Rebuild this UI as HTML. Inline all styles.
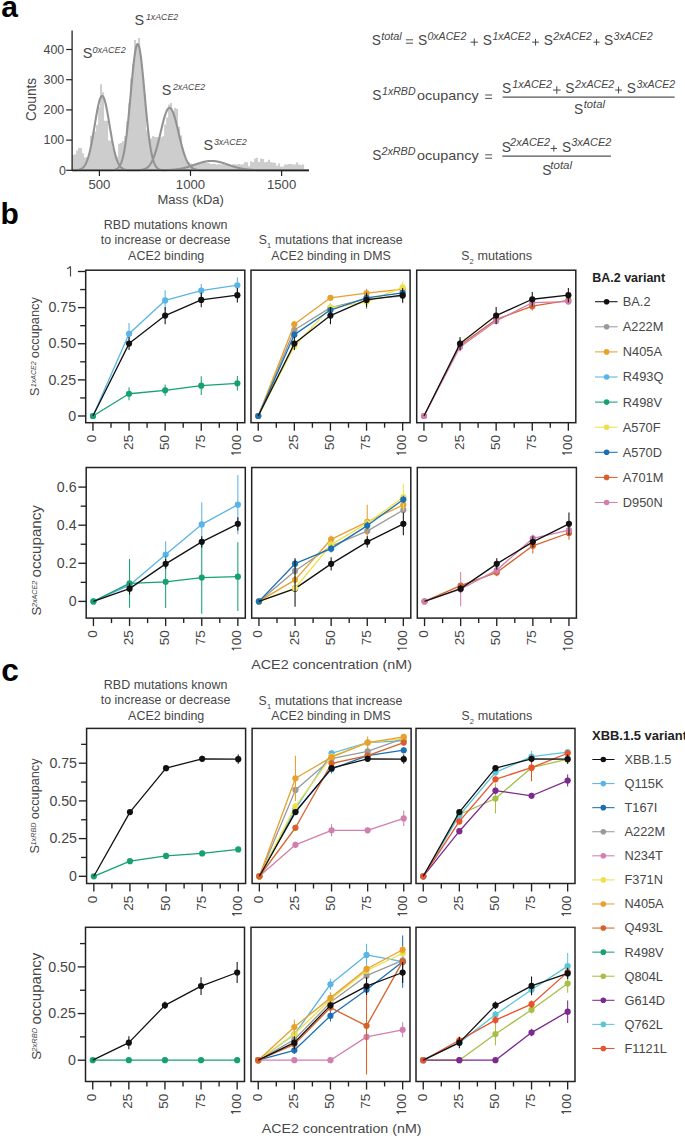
<!DOCTYPE html>
<html><head><meta charset="utf-8"><style>
html,body{margin:0;padding:0;background:#fff;width:685px;height:1138px;overflow:hidden}
svg{display:block}
text{font-family:"Liberation Sans", sans-serif}
text.t{stroke:#fff;stroke-width:0.1px}
</style></head><body>
<svg width="685" height="1138" viewBox="0 0 685 1138">
<rect width="685" height="1138" fill="#fff"/>
<text x="1.30" y="17.10" font-size="30" text-anchor="start" fill="#000" font-weight="bold">a</text>
<text x="0.60" y="223.50" font-size="30" text-anchor="start" fill="#000" font-weight="bold">b</text>
<text x="1.20" y="681.30" font-size="30.5" text-anchor="start" fill="#000" font-weight="bold" textLength="17.60" lengthAdjust="spacingAndGlyphs">c</text>
<path d="M72.1,170.3 L72.1,155.0 L74.1,155.0 L74.1,154.2 L76.1,154.2 L76.1,150.5 L78.1,150.5 L78.1,148.1 L80.1,148.1 L80.1,147.9 L82.1,147.9 L82.1,153.2 L84.1,153.2 L84.1,157.6 L86.1,157.6 L86.1,157.0 L88.1,157.0 L88.1,153.1 L90.1,153.1 L90.1,135.7 L92.1,135.7 L92.1,132.7 L94.1,132.7 L94.1,131.5 L96.1,131.5 L96.1,124.7 L98.1,124.7 L98.1,107.3 L100.1,107.3 L100.1,84.2 L102.1,84.2 L102.1,92.3 L104.1,92.3 L104.1,120.7 L106.1,120.7 L106.1,120.8 L108.1,120.8 L108.1,140.4 L110.1,140.4 L110.1,140.5 L112.1,140.5 L112.1,147.9 L114.1,147.9 L114.1,152.8 L116.1,152.8 L116.1,156.7 L118.1,156.7 L118.1,143.7 L120.1,143.7 L120.1,143.1 L122.1,143.1 L122.1,141.1 L124.1,141.1 L124.1,135.9 L126.1,135.9 L126.1,121.6 L128.1,121.6 L128.1,103.2 L130.1,103.2 L130.1,78.4 L132.1,78.4 L132.1,63.8 L134.1,63.8 L134.1,40.1 L136.1,40.1 L136.1,43.8 L138.1,43.8 L138.1,38.0 L140.1,38.0 L140.1,56.6 L142.1,56.6 L142.1,77.8 L144.1,77.8 L144.1,94.5 L146.1,94.5 L146.1,130.3 L148.1,130.3 L148.1,137.6 L150.1,137.6 L150.1,138.5 L152.1,138.5 L152.1,135.9 L154.1,135.9 L154.1,136.9 L156.1,136.9 L156.1,137.1 L158.1,137.1 L158.1,139.3 L160.1,139.3 L160.1,137.3 L162.1,137.3 L162.1,136.3 L164.1,136.3 L164.1,124.4 L166.1,124.4 L166.1,117.4 L168.1,117.4 L168.1,104.5 L170.1,104.5 L170.1,103.0 L172.1,103.0 L172.1,112.6 L174.1,112.6 L174.1,107.8 L176.1,107.8 L176.1,108.8 L178.1,108.8 L178.1,126.8 L180.1,126.8 L180.1,135.4 L182.1,135.4 L182.1,147.9 L184.1,147.9 L184.1,157.7 L186.1,157.7 L186.1,160.9 L188.1,160.9 L188.1,162.2 L190.1,162.2 L190.1,163.5 L192.1,163.5 L192.1,164.0 L194.1,164.0 L194.1,163.6 L196.1,163.6 L196.1,162.8 L198.1,162.8 L198.1,162.9 L200.1,162.9 L200.1,163.2 L202.1,163.2 L202.1,162.6 L204.1,162.6 L204.1,162.4 L206.1,162.4 L206.1,163.1 L208.1,163.1 L208.1,163.0 L210.1,163.0 L210.1,164.0 L212.1,164.0 L212.1,163.8 L214.1,163.8 L214.1,164.0 L216.1,164.0 L216.1,164.4 L218.1,164.4 L218.1,164.0 L220.1,164.0 L220.1,164.6 L222.1,164.6 L222.1,164.3 L224.1,164.3 L224.1,164.9 L226.1,164.9 L226.1,164.8 L228.1,164.8 L228.1,165.0 L230.1,165.0 L230.1,165.0 L232.1,165.0 L232.1,164.3 L234.1,164.3 L234.1,164.3 L236.1,164.3 L236.1,164.6 L238.1,164.6 L238.1,164.0 L240.1,164.0 L240.1,164.5 L242.1,164.5 L242.1,164.3 L244.1,164.3 L244.1,162.1 L246.1,162.1 L246.1,162.3 L248.1,162.3 L248.1,166.3 L250.1,166.3 L250.1,161.3 L252.1,161.3 L252.1,162.2 L254.1,162.2 L254.1,158.6 L256.1,158.6 L256.1,157.8 L258.1,157.8 L258.1,162.0 L260.1,162.0 L260.1,158.6 L262.1,158.6 L262.1,158.9 L264.1,158.9 L264.1,162.3 L266.1,162.3 L266.1,161.7 L268.1,161.7 L268.1,159.8 L270.1,159.8 L270.1,162.3 L272.1,162.3 L272.1,162.6 L274.1,162.6 L274.1,162.8 L276.1,162.8 L276.1,165.8 L278.1,165.8 L278.1,163.4 L280.1,163.4 L280.1,166.6 L282.1,166.6 L282.1,166.5 L284.1,166.5 L284.1,164.5 L286.1,164.5 L286.1,164.6 L288.1,164.6 L288.1,163.9 L290.1,163.9 L290.1,164.0 L292.1,164.0 L292.1,164.5 L294.1,164.5 L294.1,164.5 L296.1,164.5 L296.1,162.2 L298.1,162.2 L298.1,164.5 L300.1,164.5 L300.1,165.1 L302.1,165.1 L302.1,164.5 L304.1,164.5 L304.1,170.3 Z" fill="#cdcdcd" stroke="none"/>
<path d="M72.43,170.27 L72.80,170.27 L73.16,170.26 L73.53,170.25 L73.89,170.25 L74.26,170.23 L74.62,170.22 L74.99,170.21 L75.35,170.19 L75.71,170.17 L76.08,170.14 L76.44,170.11 L76.81,170.08 L77.17,170.04 L77.54,169.99 L77.90,169.93 L78.26,169.87 L78.63,169.80 L78.99,169.72 L79.36,169.62 L79.72,169.51 L80.09,169.39 L80.45,169.24 L80.82,169.08 L81.18,168.90 L81.54,168.70 L81.91,168.46 L82.27,168.21 L82.64,167.92 L83.00,167.59 L83.37,167.23 L83.73,166.83 L84.10,166.39 L84.46,165.90 L84.82,165.36 L85.19,164.77 L85.55,164.12 L85.92,163.42 L86.28,162.65 L86.65,161.82 L87.01,160.92 L87.37,159.95 L87.74,158.90 L88.10,157.78 L88.47,156.59 L88.83,155.31 L89.20,153.96 L89.56,152.52 L89.93,151.01 L90.29,149.42 L90.65,147.75 L91.02,146.00 L91.38,144.19 L91.75,142.30 L92.11,140.35 L92.48,138.35 L92.84,136.29 L93.21,134.18 L93.57,132.04 L93.93,129.86 L94.30,127.67 L94.66,125.46 L95.03,123.25 L95.39,121.06 L95.76,118.88 L96.12,116.73 L96.48,114.63 L96.85,112.59 L97.21,110.62 L97.58,108.72 L97.94,106.92 L98.31,105.22 L98.67,103.64 L99.04,102.18 L99.40,100.86 L99.76,99.69 L100.13,98.66 L100.49,97.79 L100.86,97.09 L101.22,96.56 L101.59,96.21 L101.95,96.03 L102.32,96.03 L102.68,96.21 L103.04,96.56 L103.41,97.09 L103.77,97.79 L104.14,98.66 L104.50,99.69 L104.87,100.86 L105.23,102.18 L105.59,103.64 L105.96,105.22 L106.32,106.92 L106.69,108.72 L107.05,110.62 L107.42,112.59 L107.78,114.63 L108.15,116.73 L108.51,118.88 L108.87,121.06 L109.24,123.25 L109.60,125.46 L109.97,127.67 L110.33,129.86 L110.70,132.04 L111.06,134.18 L111.43,136.29 L111.79,138.35 L112.15,140.35 L112.52,142.30 L112.88,144.19 L113.25,146.00 L113.61,147.75 L113.98,149.42 L114.34,151.01 L114.70,152.52 L115.07,153.96 L115.43,155.31 L115.80,156.59 L116.16,157.78 L116.53,158.90 L116.89,159.95 L117.26,160.92 L117.62,161.82 L117.98,162.65 L118.35,163.42 L118.71,164.12 L119.08,164.77 L119.44,165.36 L119.81,165.90 L120.17,166.39 L120.54,166.83 L120.90,167.23 L121.26,167.59 L121.63,167.92 L121.99,168.21 L122.36,168.46 L122.72,168.70 L123.09,168.90 L123.45,169.08 L123.81,169.24 L124.18,169.39 L124.54,169.51 L124.91,169.62 L125.27,169.72 L125.64,169.80 L126.00,169.87 L126.37,169.93 L126.73,169.99 L127.09,170.04 L127.46,170.08 L127.82,170.11 L128.19,170.14 L128.55,170.17 L128.92,170.19 L129.28,170.21 L129.65,170.22 L130.01,170.23 L130.37,170.25 L130.74,170.25 L131.10,170.26 L131.47,170.27 L131.83,170.27 L132.20,170.28 L132.56,170.28 L132.92,170.29 L133.29,170.29 L133.65,170.29 L134.02,170.29 L134.38,170.29 L134.75,170.30 L135.11,170.30 L135.48,170.30 L135.84,170.30 L136.20,170.30 L136.57,170.30 L136.93,170.30 L137.30,170.30 L137.66,170.30 L138.03,170.30 L138.39,170.30 L138.76,170.30 L139.12,170.30 L139.48,170.30 L139.85,170.30 L140.21,170.30 L140.58,170.30 L140.94,170.30 L141.31,170.30 L141.67,170.30 L142.03,170.30 L142.40,170.30 L142.76,170.30 L143.13,170.30 L143.49,170.30 L143.86,170.30 L144.22,170.30 L144.59,170.30 L144.95,170.30 L145.31,170.30 L145.68,170.30 L146.04,170.30 L146.41,170.30 L146.77,170.30 L147.14,170.30 L147.50,170.30 L147.87,170.30 L148.23,170.30 L148.59,170.30 L148.96,170.30 L149.32,170.30 L149.69,170.30 L150.05,170.30 L150.42,170.30 L150.78,170.30 L151.14,170.30 L151.51,170.30 L151.87,170.30 L152.24,170.30 L152.60,170.30 L152.97,170.30 L153.33,170.30 L153.70,170.30 L154.06,170.30 L154.42,170.30 L154.79,170.30 L155.15,170.30 L155.52,170.30 L155.88,170.30 L156.25,170.30 L156.61,170.30 L156.98,170.30 L157.34,170.30 L157.70,170.30 L158.07,170.30 L158.43,170.30 L158.80,170.30 L159.16,170.30 L159.53,170.30 L159.89,170.30 L160.25,170.30 L160.62,170.30 L160.98,170.30 L161.35,170.30 L161.71,170.30 L162.08,170.30 L162.44,170.30 L162.81,170.30 L163.17,170.30 L163.53,170.30 L163.90,170.30 L164.26,170.30 L164.63,170.30 L164.99,170.30 L165.36,170.30 L165.72,170.30 L166.09,170.30 L166.45,170.30 L166.81,170.30 L167.18,170.30 L167.54,170.30 L167.91,170.30 L168.27,170.30 L168.64,170.30 L169.00,170.30 L169.36,170.30 L169.73,170.30 L170.09,170.30 L170.46,170.30 L170.82,170.30 L171.19,170.30 L171.55,170.30 L171.92,170.30 L172.28,170.30 L172.64,170.30 L173.01,170.30 L173.37,170.30 L173.74,170.30 L174.10,170.30 L174.47,170.30 L174.83,170.30 L175.20,170.30 L175.56,170.30 L175.92,170.30 L176.29,170.30 L176.65,170.30 L177.02,170.30 L177.38,170.30 L177.75,170.30 L178.11,170.30 L178.47,170.30 L178.84,170.30 L179.20,170.30 L179.57,170.30 L179.93,170.30 L180.30,170.30 L180.66,170.30 L181.03,170.30 L181.39,170.30 L181.75,170.30 L182.12,170.30 L182.48,170.30 L182.85,170.30 L183.21,170.30 L183.58,170.30 L183.94,170.30 L184.31,170.30 L184.67,170.30 L185.03,170.30 L185.40,170.30 L185.76,170.30 L186.13,170.30 L186.49,170.30 L186.86,170.30 L187.22,170.30 L187.58,170.30 L187.95,170.30 L188.31,170.30 L188.68,170.30 L189.04,170.30 L189.41,170.30 L189.77,170.30 L190.14,170.30 L190.50,170.30 L190.86,170.30 L191.23,170.30 L191.59,170.30 L191.96,170.30 L192.32,170.30 L192.69,170.30 L193.05,170.30 L193.42,170.30 L193.78,170.30 L194.14,170.30 L194.51,170.30 L194.87,170.30 L195.24,170.30 L195.60,170.30 L195.97,170.30 L196.33,170.30 L196.69,170.30 L197.06,170.30 L197.42,170.30 L197.79,170.30 L198.15,170.30 L198.52,170.30 L198.88,170.30 L199.25,170.30 L199.61,170.30 L199.97,170.30 L200.34,170.30 L200.70,170.30 L201.07,170.30 L201.43,170.30 L201.80,170.30 L202.16,170.30 L202.53,170.30 L202.89,170.30 L203.25,170.30 L203.62,170.30 L203.98,170.30 L204.35,170.30 L204.71,170.30 L205.08,170.30 L205.44,170.30 L205.80,170.30 L206.17,170.30 L206.53,170.30 L206.90,170.30 L207.26,170.30 L207.63,170.30 L207.99,170.30 L208.36,170.30 L208.72,170.30 L209.08,170.30 L209.45,170.30 L209.81,170.30 L210.18,170.30 L210.54,170.30 L210.91,170.30 L211.27,170.30 L211.64,170.30 L212.00,170.30 L212.36,170.30 L212.73,170.30 L213.09,170.30 L213.46,170.30 L213.82,170.30 L214.19,170.30 L214.55,170.30 L214.91,170.30 L215.28,170.30 L215.64,170.30 L216.01,170.30 L216.37,170.30 L216.74,170.30 L217.10,170.30 L217.47,170.30 L217.83,170.30 L218.19,170.30 L218.56,170.30 L218.92,170.30 L219.29,170.30 L219.65,170.30 L220.02,170.30 L220.38,170.30 L220.75,170.30 L221.11,170.30 L221.47,170.30 L221.84,170.30 L222.20,170.30 L222.57,170.30 L222.93,170.30 L223.30,170.30 L223.66,170.30 L224.02,170.30 L224.39,170.30 L224.75,170.30 L225.12,170.30 L225.48,170.30 L225.85,170.30 L226.21,170.30 L226.58,170.30 L226.94,170.30 L227.30,170.30 L227.67,170.30 L228.03,170.30 L228.40,170.30 L228.76,170.30 L229.13,170.30 L229.49,170.30 L229.86,170.30 L230.22,170.30 L230.58,170.30 L230.95,170.30 L231.31,170.30 L231.68,170.30 L232.04,170.30 L232.41,170.30 L232.77,170.30 L233.13,170.30 L233.50,170.30 L233.86,170.30 L234.23,170.30 L234.59,170.30 L234.96,170.30 L235.32,170.30 L235.69,170.30 L236.05,170.30 L236.41,170.30 L236.78,170.30 L237.14,170.30 L237.51,170.30 L237.87,170.30 L238.24,170.30 L238.60,170.30 L238.97,170.30 L239.33,170.30 L239.69,170.30 L240.06,170.30 L240.42,170.30 L240.79,170.30 L241.15,170.30 L241.52,170.30 L241.88,170.30 L242.24,170.30 L242.61,170.30 L242.97,170.30 L243.34,170.30 L243.70,170.30 L244.07,170.30 L244.43,170.30 L244.80,170.30 L245.16,170.30 L245.52,170.30 L245.89,170.30 L246.25,170.30 L246.62,170.30 L246.98,170.30 L247.35,170.30 L247.71,170.30 L248.08,170.30 L248.44,170.30 L248.80,170.30 L249.17,170.30 L249.53,170.30 L249.90,170.30 L250.26,170.30 L250.63,170.30 L250.99,170.30 L251.35,170.30 L251.72,170.30 L252.08,170.30 L252.45,170.30 L252.81,170.30 L253.18,170.30 L253.54,170.30 L253.91,170.30 L254.27,170.30 L254.63,170.30 L255.00,170.30 L255.36,170.30 L255.73,170.30 L256.09,170.30 L256.46,170.30 L256.82,170.30 L257.19,170.30 L257.55,170.30 L257.91,170.30 L258.28,170.30 L258.64,170.30 L259.01,170.30 L259.37,170.30 L259.74,170.30 L260.10,170.30 L260.46,170.30 L260.83,170.30 L261.19,170.30 L261.56,170.30 L261.92,170.30 L262.29,170.30 L262.65,170.30 L263.02,170.30 L263.38,170.30 L263.74,170.30 L264.11,170.30 L264.47,170.30 L264.84,170.30 L265.20,170.30 L265.57,170.30 L265.93,170.30 L266.30,170.30 L266.66,170.30 L267.02,170.30 L267.39,170.30 L267.75,170.30 L268.12,170.30 L268.48,170.30 L268.85,170.30 L269.21,170.30 L269.57,170.30 L269.94,170.30 L270.30,170.30 L270.67,170.30 L271.03,170.30 L271.40,170.30 L271.76,170.30 L272.13,170.30 L272.49,170.30 L272.85,170.30 L273.22,170.30 L273.58,170.30 L273.95,170.30 L274.31,170.30 L274.68,170.30 L275.04,170.30 L275.41,170.30 L275.77,170.30 L276.13,170.30 L276.50,170.30 L276.86,170.30 L277.23,170.30 L277.59,170.30 L277.96,170.30 L278.32,170.30 L278.68,170.30 L279.05,170.30 L279.41,170.30 L279.78,170.30 L280.14,170.30 L280.51,170.30 L280.87,170.30 L281.24,170.30 L281.60,170.30 L281.96,170.30 L282.33,170.30 L282.69,170.30 L283.06,170.30 L283.42,170.30 L283.79,170.30 L284.15,170.30 L284.52,170.30 L284.88,170.30 L285.24,170.30 L285.61,170.30 L285.97,170.30 L286.34,170.30 L286.70,170.30 L287.07,170.30 L287.43,170.30 L287.79,170.30 L288.16,170.30 L288.52,170.30 L288.89,170.30 L289.25,170.30 L289.62,170.30 L289.98,170.30 L290.35,170.30 L290.71,170.30 L291.07,170.30 L291.44,170.30 L291.80,170.30 L292.17,170.30 L292.53,170.30 L292.90,170.30 L293.26,170.30 L293.63,170.30 L293.99,170.30 L294.35,170.30 L294.72,170.30 L295.08,170.30 L295.45,170.30 L295.81,170.30 L296.18,170.30 L296.54,170.30 L296.90,170.30 L297.27,170.30 L297.63,170.30 L298.00,170.30 L298.36,170.30 L298.73,170.30 L299.09,170.30 L299.46,170.30 L299.82,170.30 L300.18,170.30 L300.55,170.30 L300.91,170.30 L301.28,170.30 L301.64,170.30 L302.01,170.30 L302.37,170.30 L302.74,170.30 L303.10,170.30 L303.46,170.30 L303.83,170.30 L304.19,170.30 L304.56,170.30 L304.92,170.30 L305.29,170.30 L305.65,170.30 L306.01,170.30 L306.38,170.30 L306.74,170.30 L307.11,170.30 L307.47,170.30 L307.84,170.30 L308.20,170.30 L308.57,170.30 L308.93,170.30" fill="none" stroke="#939393" stroke-width="2.1"/>
<path d="M72.43,170.30 L72.80,170.30 L73.16,170.30 L73.53,170.30 L73.89,170.30 L74.26,170.30 L74.62,170.30 L74.99,170.30 L75.35,170.30 L75.71,170.30 L76.08,170.30 L76.44,170.30 L76.81,170.30 L77.17,170.30 L77.54,170.30 L77.90,170.30 L78.26,170.30 L78.63,170.30 L78.99,170.30 L79.36,170.30 L79.72,170.30 L80.09,170.30 L80.45,170.30 L80.82,170.30 L81.18,170.30 L81.54,170.30 L81.91,170.30 L82.27,170.30 L82.64,170.30 L83.00,170.30 L83.37,170.30 L83.73,170.30 L84.10,170.30 L84.46,170.30 L84.82,170.30 L85.19,170.30 L85.55,170.30 L85.92,170.30 L86.28,170.30 L86.65,170.30 L87.01,170.30 L87.37,170.30 L87.74,170.30 L88.10,170.30 L88.47,170.30 L88.83,170.30 L89.20,170.30 L89.56,170.30 L89.93,170.30 L90.29,170.30 L90.65,170.30 L91.02,170.30 L91.38,170.30 L91.75,170.30 L92.11,170.30 L92.48,170.30 L92.84,170.30 L93.21,170.30 L93.57,170.30 L93.93,170.30 L94.30,170.30 L94.66,170.30 L95.03,170.30 L95.39,170.30 L95.76,170.30 L96.12,170.30 L96.48,170.30 L96.85,170.30 L97.21,170.30 L97.58,170.30 L97.94,170.30 L98.31,170.30 L98.67,170.30 L99.04,170.30 L99.40,170.30 L99.76,170.30 L100.13,170.30 L100.49,170.30 L100.86,170.30 L101.22,170.30 L101.59,170.30 L101.95,170.30 L102.32,170.30 L102.68,170.30 L103.04,170.30 L103.41,170.30 L103.77,170.30 L104.14,170.30 L104.50,170.30 L104.87,170.30 L105.23,170.30 L105.59,170.30 L105.96,170.30 L106.32,170.30 L106.69,170.29 L107.05,170.29 L107.42,170.29 L107.78,170.29 L108.15,170.29 L108.51,170.28 L108.87,170.28 L109.24,170.27 L109.60,170.27 L109.97,170.26 L110.33,170.25 L110.70,170.24 L111.06,170.22 L111.43,170.20 L111.79,170.18 L112.15,170.16 L112.52,170.13 L112.88,170.09 L113.25,170.05 L113.61,170.00 L113.98,169.94 L114.34,169.87 L114.70,169.78 L115.07,169.68 L115.43,169.57 L115.80,169.44 L116.16,169.28 L116.53,169.10 L116.89,168.90 L117.26,168.66 L117.62,168.39 L117.98,168.08 L118.35,167.72 L118.71,167.32 L119.08,166.86 L119.44,166.34 L119.81,165.76 L120.17,165.11 L120.54,164.38 L120.90,163.56 L121.26,162.66 L121.63,161.66 L121.99,160.55 L122.36,159.33 L122.72,158.00 L123.09,156.54 L123.45,154.94 L123.81,153.22 L124.18,151.35 L124.54,149.33 L124.91,147.16 L125.27,144.84 L125.64,142.37 L126.00,139.73 L126.37,136.95 L126.73,134.01 L127.09,130.92 L127.46,127.68 L127.82,124.31 L128.19,120.81 L128.55,117.18 L128.92,113.45 L129.28,109.63 L129.65,105.73 L130.01,101.76 L130.37,97.76 L130.74,93.73 L131.10,89.71 L131.47,85.70 L131.83,81.75 L132.20,77.86 L132.56,74.08 L132.92,70.41 L133.29,66.89 L133.65,63.54 L134.02,60.39 L134.38,57.46 L134.75,54.77 L135.11,52.35 L135.48,50.20 L135.84,48.36 L136.20,46.83 L136.57,45.63 L136.93,44.76 L137.30,44.24 L137.66,44.06 L138.03,44.24 L138.39,44.76 L138.76,45.63 L139.12,46.83 L139.48,48.36 L139.85,50.20 L140.21,52.35 L140.58,54.77 L140.94,57.46 L141.31,60.39 L141.67,63.54 L142.03,66.89 L142.40,70.41 L142.76,74.08 L143.13,77.86 L143.49,81.75 L143.86,85.70 L144.22,89.71 L144.59,93.73 L144.95,97.76 L145.31,101.76 L145.68,105.73 L146.04,109.63 L146.41,113.45 L146.77,117.18 L147.14,120.81 L147.50,124.31 L147.87,127.68 L148.23,130.92 L148.59,134.01 L148.96,136.95 L149.32,139.73 L149.69,142.37 L150.05,144.84 L150.42,147.16 L150.78,149.33 L151.14,151.35 L151.51,153.22 L151.87,154.94 L152.24,156.54 L152.60,158.00 L152.97,159.33 L153.33,160.55 L153.70,161.66 L154.06,162.66 L154.42,163.56 L154.79,164.38 L155.15,165.11 L155.52,165.76 L155.88,166.34 L156.25,166.86 L156.61,167.32 L156.98,167.72 L157.34,168.08 L157.70,168.39 L158.07,168.66 L158.43,168.90 L158.80,169.10 L159.16,169.28 L159.53,169.44 L159.89,169.57 L160.25,169.68 L160.62,169.78 L160.98,169.87 L161.35,169.94 L161.71,170.00 L162.08,170.05 L162.44,170.09 L162.81,170.13 L163.17,170.16 L163.53,170.18 L163.90,170.20 L164.26,170.22 L164.63,170.24 L164.99,170.25 L165.36,170.26 L165.72,170.27 L166.09,170.27 L166.45,170.28 L166.81,170.28 L167.18,170.29 L167.54,170.29 L167.91,170.29 L168.27,170.29 L168.64,170.29 L169.00,170.30 L169.36,170.30 L169.73,170.30 L170.09,170.30 L170.46,170.30 L170.82,170.30 L171.19,170.30 L171.55,170.30 L171.92,170.30 L172.28,170.30 L172.64,170.30 L173.01,170.30 L173.37,170.30 L173.74,170.30 L174.10,170.30 L174.47,170.30 L174.83,170.30 L175.20,170.30 L175.56,170.30 L175.92,170.30 L176.29,170.30 L176.65,170.30 L177.02,170.30 L177.38,170.30 L177.75,170.30 L178.11,170.30 L178.47,170.30 L178.84,170.30 L179.20,170.30 L179.57,170.30 L179.93,170.30 L180.30,170.30 L180.66,170.30 L181.03,170.30 L181.39,170.30 L181.75,170.30 L182.12,170.30 L182.48,170.30 L182.85,170.30 L183.21,170.30 L183.58,170.30 L183.94,170.30 L184.31,170.30 L184.67,170.30 L185.03,170.30 L185.40,170.30 L185.76,170.30 L186.13,170.30 L186.49,170.30 L186.86,170.30 L187.22,170.30 L187.58,170.30 L187.95,170.30 L188.31,170.30 L188.68,170.30 L189.04,170.30 L189.41,170.30 L189.77,170.30 L190.14,170.30 L190.50,170.30 L190.86,170.30 L191.23,170.30 L191.59,170.30 L191.96,170.30 L192.32,170.30 L192.69,170.30 L193.05,170.30 L193.42,170.30 L193.78,170.30 L194.14,170.30 L194.51,170.30 L194.87,170.30 L195.24,170.30 L195.60,170.30 L195.97,170.30 L196.33,170.30 L196.69,170.30 L197.06,170.30 L197.42,170.30 L197.79,170.30 L198.15,170.30 L198.52,170.30 L198.88,170.30 L199.25,170.30 L199.61,170.30 L199.97,170.30 L200.34,170.30 L200.70,170.30 L201.07,170.30 L201.43,170.30 L201.80,170.30 L202.16,170.30 L202.53,170.30 L202.89,170.30 L203.25,170.30 L203.62,170.30 L203.98,170.30 L204.35,170.30 L204.71,170.30 L205.08,170.30 L205.44,170.30 L205.80,170.30 L206.17,170.30 L206.53,170.30 L206.90,170.30 L207.26,170.30 L207.63,170.30 L207.99,170.30 L208.36,170.30 L208.72,170.30 L209.08,170.30 L209.45,170.30 L209.81,170.30 L210.18,170.30 L210.54,170.30 L210.91,170.30 L211.27,170.30 L211.64,170.30 L212.00,170.30 L212.36,170.30 L212.73,170.30 L213.09,170.30 L213.46,170.30 L213.82,170.30 L214.19,170.30 L214.55,170.30 L214.91,170.30 L215.28,170.30 L215.64,170.30 L216.01,170.30 L216.37,170.30 L216.74,170.30 L217.10,170.30 L217.47,170.30 L217.83,170.30 L218.19,170.30 L218.56,170.30 L218.92,170.30 L219.29,170.30 L219.65,170.30 L220.02,170.30 L220.38,170.30 L220.75,170.30 L221.11,170.30 L221.47,170.30 L221.84,170.30 L222.20,170.30 L222.57,170.30 L222.93,170.30 L223.30,170.30 L223.66,170.30 L224.02,170.30 L224.39,170.30 L224.75,170.30 L225.12,170.30 L225.48,170.30 L225.85,170.30 L226.21,170.30 L226.58,170.30 L226.94,170.30 L227.30,170.30 L227.67,170.30 L228.03,170.30 L228.40,170.30 L228.76,170.30 L229.13,170.30 L229.49,170.30 L229.86,170.30 L230.22,170.30 L230.58,170.30 L230.95,170.30 L231.31,170.30 L231.68,170.30 L232.04,170.30 L232.41,170.30 L232.77,170.30 L233.13,170.30 L233.50,170.30 L233.86,170.30 L234.23,170.30 L234.59,170.30 L234.96,170.30 L235.32,170.30 L235.69,170.30 L236.05,170.30 L236.41,170.30 L236.78,170.30 L237.14,170.30 L237.51,170.30 L237.87,170.30 L238.24,170.30 L238.60,170.30 L238.97,170.30 L239.33,170.30 L239.69,170.30 L240.06,170.30 L240.42,170.30 L240.79,170.30 L241.15,170.30 L241.52,170.30 L241.88,170.30 L242.24,170.30 L242.61,170.30 L242.97,170.30 L243.34,170.30 L243.70,170.30 L244.07,170.30 L244.43,170.30 L244.80,170.30 L245.16,170.30 L245.52,170.30 L245.89,170.30 L246.25,170.30 L246.62,170.30 L246.98,170.30 L247.35,170.30 L247.71,170.30 L248.08,170.30 L248.44,170.30 L248.80,170.30 L249.17,170.30 L249.53,170.30 L249.90,170.30 L250.26,170.30 L250.63,170.30 L250.99,170.30 L251.35,170.30 L251.72,170.30 L252.08,170.30 L252.45,170.30 L252.81,170.30 L253.18,170.30 L253.54,170.30 L253.91,170.30 L254.27,170.30 L254.63,170.30 L255.00,170.30 L255.36,170.30 L255.73,170.30 L256.09,170.30 L256.46,170.30 L256.82,170.30 L257.19,170.30 L257.55,170.30 L257.91,170.30 L258.28,170.30 L258.64,170.30 L259.01,170.30 L259.37,170.30 L259.74,170.30 L260.10,170.30 L260.46,170.30 L260.83,170.30 L261.19,170.30 L261.56,170.30 L261.92,170.30 L262.29,170.30 L262.65,170.30 L263.02,170.30 L263.38,170.30 L263.74,170.30 L264.11,170.30 L264.47,170.30 L264.84,170.30 L265.20,170.30 L265.57,170.30 L265.93,170.30 L266.30,170.30 L266.66,170.30 L267.02,170.30 L267.39,170.30 L267.75,170.30 L268.12,170.30 L268.48,170.30 L268.85,170.30 L269.21,170.30 L269.57,170.30 L269.94,170.30 L270.30,170.30 L270.67,170.30 L271.03,170.30 L271.40,170.30 L271.76,170.30 L272.13,170.30 L272.49,170.30 L272.85,170.30 L273.22,170.30 L273.58,170.30 L273.95,170.30 L274.31,170.30 L274.68,170.30 L275.04,170.30 L275.41,170.30 L275.77,170.30 L276.13,170.30 L276.50,170.30 L276.86,170.30 L277.23,170.30 L277.59,170.30 L277.96,170.30 L278.32,170.30 L278.68,170.30 L279.05,170.30 L279.41,170.30 L279.78,170.30 L280.14,170.30 L280.51,170.30 L280.87,170.30 L281.24,170.30 L281.60,170.30 L281.96,170.30 L282.33,170.30 L282.69,170.30 L283.06,170.30 L283.42,170.30 L283.79,170.30 L284.15,170.30 L284.52,170.30 L284.88,170.30 L285.24,170.30 L285.61,170.30 L285.97,170.30 L286.34,170.30 L286.70,170.30 L287.07,170.30 L287.43,170.30 L287.79,170.30 L288.16,170.30 L288.52,170.30 L288.89,170.30 L289.25,170.30 L289.62,170.30 L289.98,170.30 L290.35,170.30 L290.71,170.30 L291.07,170.30 L291.44,170.30 L291.80,170.30 L292.17,170.30 L292.53,170.30 L292.90,170.30 L293.26,170.30 L293.63,170.30 L293.99,170.30 L294.35,170.30 L294.72,170.30 L295.08,170.30 L295.45,170.30 L295.81,170.30 L296.18,170.30 L296.54,170.30 L296.90,170.30 L297.27,170.30 L297.63,170.30 L298.00,170.30 L298.36,170.30 L298.73,170.30 L299.09,170.30 L299.46,170.30 L299.82,170.30 L300.18,170.30 L300.55,170.30 L300.91,170.30 L301.28,170.30 L301.64,170.30 L302.01,170.30 L302.37,170.30 L302.74,170.30 L303.10,170.30 L303.46,170.30 L303.83,170.30 L304.19,170.30 L304.56,170.30 L304.92,170.30 L305.29,170.30 L305.65,170.30 L306.01,170.30 L306.38,170.30 L306.74,170.30 L307.11,170.30 L307.47,170.30 L307.84,170.30 L308.20,170.30 L308.57,170.30 L308.93,170.30" fill="none" stroke="#939393" stroke-width="2.1"/>
<path d="M72.43,170.30 L72.80,170.30 L73.16,170.30 L73.53,170.30 L73.89,170.30 L74.26,170.30 L74.62,170.30 L74.99,170.30 L75.35,170.30 L75.71,170.30 L76.08,170.30 L76.44,170.30 L76.81,170.30 L77.17,170.30 L77.54,170.30 L77.90,170.30 L78.26,170.30 L78.63,170.30 L78.99,170.30 L79.36,170.30 L79.72,170.30 L80.09,170.30 L80.45,170.30 L80.82,170.30 L81.18,170.30 L81.54,170.30 L81.91,170.30 L82.27,170.30 L82.64,170.30 L83.00,170.30 L83.37,170.30 L83.73,170.30 L84.10,170.30 L84.46,170.30 L84.82,170.30 L85.19,170.30 L85.55,170.30 L85.92,170.30 L86.28,170.30 L86.65,170.30 L87.01,170.30 L87.37,170.30 L87.74,170.30 L88.10,170.30 L88.47,170.30 L88.83,170.30 L89.20,170.30 L89.56,170.30 L89.93,170.30 L90.29,170.30 L90.65,170.30 L91.02,170.30 L91.38,170.30 L91.75,170.30 L92.11,170.30 L92.48,170.30 L92.84,170.30 L93.21,170.30 L93.57,170.30 L93.93,170.30 L94.30,170.30 L94.66,170.30 L95.03,170.30 L95.39,170.30 L95.76,170.30 L96.12,170.30 L96.48,170.30 L96.85,170.30 L97.21,170.30 L97.58,170.30 L97.94,170.30 L98.31,170.30 L98.67,170.30 L99.04,170.30 L99.40,170.30 L99.76,170.30 L100.13,170.30 L100.49,170.30 L100.86,170.30 L101.22,170.30 L101.59,170.30 L101.95,170.30 L102.32,170.30 L102.68,170.30 L103.04,170.30 L103.41,170.30 L103.77,170.30 L104.14,170.30 L104.50,170.30 L104.87,170.30 L105.23,170.30 L105.59,170.30 L105.96,170.30 L106.32,170.30 L106.69,170.30 L107.05,170.30 L107.42,170.30 L107.78,170.30 L108.15,170.30 L108.51,170.30 L108.87,170.30 L109.24,170.30 L109.60,170.30 L109.97,170.30 L110.33,170.30 L110.70,170.30 L111.06,170.30 L111.43,170.30 L111.79,170.30 L112.15,170.30 L112.52,170.30 L112.88,170.30 L113.25,170.30 L113.61,170.30 L113.98,170.30 L114.34,170.30 L114.70,170.30 L115.07,170.30 L115.43,170.30 L115.80,170.30 L116.16,170.30 L116.53,170.30 L116.89,170.30 L117.26,170.30 L117.62,170.30 L117.98,170.30 L118.35,170.30 L118.71,170.30 L119.08,170.30 L119.44,170.30 L119.81,170.30 L120.17,170.30 L120.54,170.30 L120.90,170.30 L121.26,170.30 L121.63,170.30 L121.99,170.30 L122.36,170.30 L122.72,170.30 L123.09,170.30 L123.45,170.30 L123.81,170.30 L124.18,170.30 L124.54,170.30 L124.91,170.30 L125.27,170.30 L125.64,170.30 L126.00,170.30 L126.37,170.30 L126.73,170.30 L127.09,170.30 L127.46,170.30 L127.82,170.30 L128.19,170.30 L128.55,170.30 L128.92,170.30 L129.28,170.30 L129.65,170.30 L130.01,170.30 L130.37,170.30 L130.74,170.30 L131.10,170.29 L131.47,170.29 L131.83,170.29 L132.20,170.29 L132.56,170.29 L132.92,170.29 L133.29,170.28 L133.65,170.28 L134.02,170.28 L134.38,170.27 L134.75,170.27 L135.11,170.26 L135.48,170.26 L135.84,170.25 L136.20,170.24 L136.57,170.23 L136.93,170.22 L137.30,170.21 L137.66,170.19 L138.03,170.18 L138.39,170.16 L138.76,170.14 L139.12,170.11 L139.48,170.08 L139.85,170.05 L140.21,170.02 L140.58,169.98 L140.94,169.93 L141.31,169.88 L141.67,169.82 L142.03,169.76 L142.40,169.69 L142.76,169.61 L143.13,169.52 L143.49,169.42 L143.86,169.30 L144.22,169.18 L144.59,169.05 L144.95,168.89 L145.31,168.73 L145.68,168.55 L146.04,168.35 L146.41,168.13 L146.77,167.89 L147.14,167.62 L147.50,167.34 L147.87,167.02 L148.23,166.69 L148.59,166.32 L148.96,165.92 L149.32,165.50 L149.69,165.03 L150.05,164.54 L150.42,164.01 L150.78,163.44 L151.14,162.83 L151.51,162.18 L151.87,161.49 L152.24,160.76 L152.60,159.98 L152.97,159.16 L153.33,158.29 L153.70,157.37 L154.06,156.42 L154.42,155.41 L154.79,154.36 L155.15,153.26 L155.52,152.11 L155.88,150.92 L156.25,149.69 L156.61,148.42 L156.98,147.11 L157.34,145.75 L157.70,144.37 L158.07,142.95 L158.43,141.50 L158.80,140.02 L159.16,138.52 L159.53,137.00 L159.89,135.47 L160.25,133.93 L160.62,132.38 L160.98,130.84 L161.35,129.30 L161.71,127.76 L162.08,126.25 L162.44,124.76 L162.81,123.29 L163.17,121.86 L163.53,120.47 L163.90,119.12 L164.26,117.83 L164.63,116.59 L164.99,115.42 L165.36,114.31 L165.72,113.27 L166.09,112.31 L166.45,111.44 L166.81,110.65 L167.18,109.95 L167.54,109.34 L167.91,108.83 L168.27,108.42 L168.64,108.11 L169.00,107.90 L169.36,107.80 L169.73,107.80 L170.09,107.90 L170.46,108.11 L170.82,108.42 L171.19,108.83 L171.55,109.34 L171.92,109.95 L172.28,110.65 L172.64,111.44 L173.01,112.31 L173.37,113.27 L173.74,114.31 L174.10,115.42 L174.47,116.59 L174.83,117.83 L175.20,119.12 L175.56,120.47 L175.92,121.86 L176.29,123.29 L176.65,124.76 L177.02,126.25 L177.38,127.76 L177.75,129.30 L178.11,130.84 L178.47,132.38 L178.84,133.93 L179.20,135.47 L179.57,137.00 L179.93,138.52 L180.30,140.02 L180.66,141.50 L181.03,142.95 L181.39,144.37 L181.75,145.75 L182.12,147.11 L182.48,148.42 L182.85,149.69 L183.21,150.92 L183.58,152.11 L183.94,153.26 L184.31,154.36 L184.67,155.41 L185.03,156.42 L185.40,157.37 L185.76,158.29 L186.13,159.16 L186.49,159.98 L186.86,160.76 L187.22,161.49 L187.58,162.18 L187.95,162.83 L188.31,163.44 L188.68,164.01 L189.04,164.54 L189.41,165.03 L189.77,165.50 L190.14,165.92 L190.50,166.32 L190.86,166.69 L191.23,167.02 L191.59,167.34 L191.96,167.62 L192.32,167.89 L192.69,168.13 L193.05,168.35 L193.42,168.55 L193.78,168.73 L194.14,168.89 L194.51,169.05 L194.87,169.18 L195.24,169.30 L195.60,169.42 L195.97,169.52 L196.33,169.61 L196.69,169.69 L197.06,169.76 L197.42,169.82 L197.79,169.88 L198.15,169.93 L198.52,169.98 L198.88,170.02 L199.25,170.05 L199.61,170.08 L199.97,170.11 L200.34,170.14 L200.70,170.16 L201.07,170.18 L201.43,170.19 L201.80,170.21 L202.16,170.22 L202.53,170.23 L202.89,170.24 L203.25,170.25 L203.62,170.26 L203.98,170.26 L204.35,170.27 L204.71,170.27 L205.08,170.28 L205.44,170.28 L205.80,170.28 L206.17,170.29 L206.53,170.29 L206.90,170.29 L207.26,170.29 L207.63,170.29 L207.99,170.29 L208.36,170.30 L208.72,170.30 L209.08,170.30 L209.45,170.30 L209.81,170.30 L210.18,170.30 L210.54,170.30 L210.91,170.30 L211.27,170.30 L211.64,170.30 L212.00,170.30 L212.36,170.30 L212.73,170.30 L213.09,170.30 L213.46,170.30 L213.82,170.30 L214.19,170.30 L214.55,170.30 L214.91,170.30 L215.28,170.30 L215.64,170.30 L216.01,170.30 L216.37,170.30 L216.74,170.30 L217.10,170.30 L217.47,170.30 L217.83,170.30 L218.19,170.30 L218.56,170.30 L218.92,170.30 L219.29,170.30 L219.65,170.30 L220.02,170.30 L220.38,170.30 L220.75,170.30 L221.11,170.30 L221.47,170.30 L221.84,170.30 L222.20,170.30 L222.57,170.30 L222.93,170.30 L223.30,170.30 L223.66,170.30 L224.02,170.30 L224.39,170.30 L224.75,170.30 L225.12,170.30 L225.48,170.30 L225.85,170.30 L226.21,170.30 L226.58,170.30 L226.94,170.30 L227.30,170.30 L227.67,170.30 L228.03,170.30 L228.40,170.30 L228.76,170.30 L229.13,170.30 L229.49,170.30 L229.86,170.30 L230.22,170.30 L230.58,170.30 L230.95,170.30 L231.31,170.30 L231.68,170.30 L232.04,170.30 L232.41,170.30 L232.77,170.30 L233.13,170.30 L233.50,170.30 L233.86,170.30 L234.23,170.30 L234.59,170.30 L234.96,170.30 L235.32,170.30 L235.69,170.30 L236.05,170.30 L236.41,170.30 L236.78,170.30 L237.14,170.30 L237.51,170.30 L237.87,170.30 L238.24,170.30 L238.60,170.30 L238.97,170.30 L239.33,170.30 L239.69,170.30 L240.06,170.30 L240.42,170.30 L240.79,170.30 L241.15,170.30 L241.52,170.30 L241.88,170.30 L242.24,170.30 L242.61,170.30 L242.97,170.30 L243.34,170.30 L243.70,170.30 L244.07,170.30 L244.43,170.30 L244.80,170.30 L245.16,170.30 L245.52,170.30 L245.89,170.30 L246.25,170.30 L246.62,170.30 L246.98,170.30 L247.35,170.30 L247.71,170.30 L248.08,170.30 L248.44,170.30 L248.80,170.30 L249.17,170.30 L249.53,170.30 L249.90,170.30 L250.26,170.30 L250.63,170.30 L250.99,170.30 L251.35,170.30 L251.72,170.30 L252.08,170.30 L252.45,170.30 L252.81,170.30 L253.18,170.30 L253.54,170.30 L253.91,170.30 L254.27,170.30 L254.63,170.30 L255.00,170.30 L255.36,170.30 L255.73,170.30 L256.09,170.30 L256.46,170.30 L256.82,170.30 L257.19,170.30 L257.55,170.30 L257.91,170.30 L258.28,170.30 L258.64,170.30 L259.01,170.30 L259.37,170.30 L259.74,170.30 L260.10,170.30 L260.46,170.30 L260.83,170.30 L261.19,170.30 L261.56,170.30 L261.92,170.30 L262.29,170.30 L262.65,170.30 L263.02,170.30 L263.38,170.30 L263.74,170.30 L264.11,170.30 L264.47,170.30 L264.84,170.30 L265.20,170.30 L265.57,170.30 L265.93,170.30 L266.30,170.30 L266.66,170.30 L267.02,170.30 L267.39,170.30 L267.75,170.30 L268.12,170.30 L268.48,170.30 L268.85,170.30 L269.21,170.30 L269.57,170.30 L269.94,170.30 L270.30,170.30 L270.67,170.30 L271.03,170.30 L271.40,170.30 L271.76,170.30 L272.13,170.30 L272.49,170.30 L272.85,170.30 L273.22,170.30 L273.58,170.30 L273.95,170.30 L274.31,170.30 L274.68,170.30 L275.04,170.30 L275.41,170.30 L275.77,170.30 L276.13,170.30 L276.50,170.30 L276.86,170.30 L277.23,170.30 L277.59,170.30 L277.96,170.30 L278.32,170.30 L278.68,170.30 L279.05,170.30 L279.41,170.30 L279.78,170.30 L280.14,170.30 L280.51,170.30 L280.87,170.30 L281.24,170.30 L281.60,170.30 L281.96,170.30 L282.33,170.30 L282.69,170.30 L283.06,170.30 L283.42,170.30 L283.79,170.30 L284.15,170.30 L284.52,170.30 L284.88,170.30 L285.24,170.30 L285.61,170.30 L285.97,170.30 L286.34,170.30 L286.70,170.30 L287.07,170.30 L287.43,170.30 L287.79,170.30 L288.16,170.30 L288.52,170.30 L288.89,170.30 L289.25,170.30 L289.62,170.30 L289.98,170.30 L290.35,170.30 L290.71,170.30 L291.07,170.30 L291.44,170.30 L291.80,170.30 L292.17,170.30 L292.53,170.30 L292.90,170.30 L293.26,170.30 L293.63,170.30 L293.99,170.30 L294.35,170.30 L294.72,170.30 L295.08,170.30 L295.45,170.30 L295.81,170.30 L296.18,170.30 L296.54,170.30 L296.90,170.30 L297.27,170.30 L297.63,170.30 L298.00,170.30 L298.36,170.30 L298.73,170.30 L299.09,170.30 L299.46,170.30 L299.82,170.30 L300.18,170.30 L300.55,170.30 L300.91,170.30 L301.28,170.30 L301.64,170.30 L302.01,170.30 L302.37,170.30 L302.74,170.30 L303.10,170.30 L303.46,170.30 L303.83,170.30 L304.19,170.30 L304.56,170.30 L304.92,170.30 L305.29,170.30 L305.65,170.30 L306.01,170.30 L306.38,170.30 L306.74,170.30 L307.11,170.30 L307.47,170.30 L307.84,170.30 L308.20,170.30 L308.57,170.30 L308.93,170.30" fill="none" stroke="#939393" stroke-width="2.1"/>
<path d="M72.43,170.30 L72.80,170.30 L73.16,170.30 L73.53,170.30 L73.89,170.30 L74.26,170.30 L74.62,170.30 L74.99,170.30 L75.35,170.30 L75.71,170.30 L76.08,170.30 L76.44,170.30 L76.81,170.30 L77.17,170.30 L77.54,170.30 L77.90,170.30 L78.26,170.30 L78.63,170.30 L78.99,170.30 L79.36,170.30 L79.72,170.30 L80.09,170.30 L80.45,170.30 L80.82,170.30 L81.18,170.30 L81.54,170.30 L81.91,170.30 L82.27,170.30 L82.64,170.30 L83.00,170.30 L83.37,170.30 L83.73,170.30 L84.10,170.30 L84.46,170.30 L84.82,170.30 L85.19,170.30 L85.55,170.30 L85.92,170.30 L86.28,170.30 L86.65,170.30 L87.01,170.30 L87.37,170.30 L87.74,170.30 L88.10,170.30 L88.47,170.30 L88.83,170.30 L89.20,170.30 L89.56,170.30 L89.93,170.30 L90.29,170.30 L90.65,170.30 L91.02,170.30 L91.38,170.30 L91.75,170.30 L92.11,170.30 L92.48,170.30 L92.84,170.30 L93.21,170.30 L93.57,170.30 L93.93,170.30 L94.30,170.30 L94.66,170.30 L95.03,170.30 L95.39,170.30 L95.76,170.30 L96.12,170.30 L96.48,170.30 L96.85,170.30 L97.21,170.30 L97.58,170.30 L97.94,170.30 L98.31,170.30 L98.67,170.30 L99.04,170.30 L99.40,170.30 L99.76,170.30 L100.13,170.30 L100.49,170.30 L100.86,170.30 L101.22,170.30 L101.59,170.30 L101.95,170.30 L102.32,170.30 L102.68,170.30 L103.04,170.30 L103.41,170.30 L103.77,170.30 L104.14,170.30 L104.50,170.30 L104.87,170.30 L105.23,170.30 L105.59,170.30 L105.96,170.30 L106.32,170.30 L106.69,170.30 L107.05,170.30 L107.42,170.30 L107.78,170.30 L108.15,170.30 L108.51,170.30 L108.87,170.30 L109.24,170.30 L109.60,170.30 L109.97,170.30 L110.33,170.30 L110.70,170.30 L111.06,170.30 L111.43,170.30 L111.79,170.30 L112.15,170.30 L112.52,170.30 L112.88,170.30 L113.25,170.30 L113.61,170.30 L113.98,170.30 L114.34,170.30 L114.70,170.30 L115.07,170.30 L115.43,170.30 L115.80,170.30 L116.16,170.30 L116.53,170.30 L116.89,170.30 L117.26,170.30 L117.62,170.30 L117.98,170.30 L118.35,170.30 L118.71,170.30 L119.08,170.30 L119.44,170.30 L119.81,170.30 L120.17,170.30 L120.54,170.30 L120.90,170.30 L121.26,170.30 L121.63,170.30 L121.99,170.30 L122.36,170.30 L122.72,170.30 L123.09,170.30 L123.45,170.30 L123.81,170.30 L124.18,170.30 L124.54,170.30 L124.91,170.30 L125.27,170.30 L125.64,170.30 L126.00,170.30 L126.37,170.30 L126.73,170.30 L127.09,170.30 L127.46,170.30 L127.82,170.30 L128.19,170.30 L128.55,170.30 L128.92,170.30 L129.28,170.30 L129.65,170.30 L130.01,170.30 L130.37,170.30 L130.74,170.30 L131.10,170.30 L131.47,170.30 L131.83,170.30 L132.20,170.30 L132.56,170.30 L132.92,170.30 L133.29,170.30 L133.65,170.30 L134.02,170.30 L134.38,170.30 L134.75,170.30 L135.11,170.30 L135.48,170.30 L135.84,170.30 L136.20,170.30 L136.57,170.30 L136.93,170.30 L137.30,170.30 L137.66,170.30 L138.03,170.30 L138.39,170.30 L138.76,170.30 L139.12,170.30 L139.48,170.30 L139.85,170.30 L140.21,170.30 L140.58,170.30 L140.94,170.30 L141.31,170.30 L141.67,170.30 L142.03,170.30 L142.40,170.30 L142.76,170.30 L143.13,170.30 L143.49,170.30 L143.86,170.30 L144.22,170.30 L144.59,170.30 L144.95,170.30 L145.31,170.30 L145.68,170.30 L146.04,170.30 L146.41,170.30 L146.77,170.30 L147.14,170.30 L147.50,170.30 L147.87,170.29 L148.23,170.29 L148.59,170.29 L148.96,170.29 L149.32,170.29 L149.69,170.29 L150.05,170.29 L150.42,170.29 L150.78,170.29 L151.14,170.29 L151.51,170.29 L151.87,170.29 L152.24,170.29 L152.60,170.29 L152.97,170.28 L153.33,170.28 L153.70,170.28 L154.06,170.28 L154.42,170.28 L154.79,170.28 L155.15,170.27 L155.52,170.27 L155.88,170.27 L156.25,170.27 L156.61,170.27 L156.98,170.26 L157.34,170.26 L157.70,170.26 L158.07,170.25 L158.43,170.25 L158.80,170.25 L159.16,170.24 L159.53,170.24 L159.89,170.23 L160.25,170.23 L160.62,170.22 L160.98,170.22 L161.35,170.21 L161.71,170.21 L162.08,170.20 L162.44,170.19 L162.81,170.19 L163.17,170.18 L163.53,170.17 L163.90,170.16 L164.26,170.15 L164.63,170.14 L164.99,170.13 L165.36,170.12 L165.72,170.11 L166.09,170.10 L166.45,170.08 L166.81,170.07 L167.18,170.06 L167.54,170.04 L167.91,170.02 L168.27,170.01 L168.64,169.99 L169.00,169.97 L169.36,169.95 L169.73,169.93 L170.09,169.91 L170.46,169.89 L170.82,169.87 L171.19,169.84 L171.55,169.82 L171.92,169.79 L172.28,169.76 L172.64,169.73 L173.01,169.70 L173.37,169.67 L173.74,169.64 L174.10,169.60 L174.47,169.56 L174.83,169.53 L175.20,169.49 L175.56,169.45 L175.92,169.40 L176.29,169.36 L176.65,169.32 L177.02,169.27 L177.38,169.22 L177.75,169.17 L178.11,169.12 L178.47,169.06 L178.84,169.00 L179.20,168.95 L179.57,168.89 L179.93,168.82 L180.30,168.76 L180.66,168.69 L181.03,168.63 L181.39,168.56 L181.75,168.48 L182.12,168.41 L182.48,168.33 L182.85,168.26 L183.21,168.18 L183.58,168.09 L183.94,168.01 L184.31,167.92 L184.67,167.83 L185.03,167.74 L185.40,167.65 L185.76,167.56 L186.13,167.46 L186.49,167.36 L186.86,167.26 L187.22,167.16 L187.58,167.05 L187.95,166.95 L188.31,166.84 L188.68,166.73 L189.04,166.62 L189.41,166.51 L189.77,166.39 L190.14,166.28 L190.50,166.16 L190.86,166.04 L191.23,165.92 L191.59,165.80 L191.96,165.68 L192.32,165.56 L192.69,165.44 L193.05,165.31 L193.42,165.19 L193.78,165.06 L194.14,164.94 L194.51,164.81 L194.87,164.68 L195.24,164.56 L195.60,164.43 L195.97,164.31 L196.33,164.18 L196.69,164.06 L197.06,163.93 L197.42,163.81 L197.79,163.68 L198.15,163.56 L198.52,163.44 L198.88,163.32 L199.25,163.20 L199.61,163.09 L199.97,162.97 L200.34,162.86 L200.70,162.75 L201.07,162.64 L201.43,162.53 L201.80,162.43 L202.16,162.33 L202.53,162.23 L202.89,162.13 L203.25,162.04 L203.62,161.95 L203.98,161.86 L204.35,161.78 L204.71,161.70 L205.08,161.62 L205.44,161.55 L205.80,161.48 L206.17,161.41 L206.53,161.35 L206.90,161.29 L207.26,161.24 L207.63,161.19 L207.99,161.14 L208.36,161.10 L208.72,161.07 L209.08,161.04 L209.45,161.01 L209.81,160.98 L210.18,160.97 L210.54,160.95 L210.91,160.94 L211.27,160.94 L211.64,160.94 L212.00,160.94 L212.36,160.95 L212.73,160.97 L213.09,160.98 L213.46,161.01 L213.82,161.04 L214.19,161.07 L214.55,161.10 L214.91,161.14 L215.28,161.19 L215.64,161.24 L216.01,161.29 L216.37,161.35 L216.74,161.41 L217.10,161.48 L217.47,161.55 L217.83,161.62 L218.19,161.70 L218.56,161.78 L218.92,161.86 L219.29,161.95 L219.65,162.04 L220.02,162.13 L220.38,162.23 L220.75,162.33 L221.11,162.43 L221.47,162.53 L221.84,162.64 L222.20,162.75 L222.57,162.86 L222.93,162.97 L223.30,163.09 L223.66,163.20 L224.02,163.32 L224.39,163.44 L224.75,163.56 L225.12,163.68 L225.48,163.81 L225.85,163.93 L226.21,164.06 L226.58,164.18 L226.94,164.31 L227.30,164.43 L227.67,164.56 L228.03,164.68 L228.40,164.81 L228.76,164.94 L229.13,165.06 L229.49,165.19 L229.86,165.31 L230.22,165.44 L230.58,165.56 L230.95,165.68 L231.31,165.80 L231.68,165.92 L232.04,166.04 L232.41,166.16 L232.77,166.28 L233.13,166.39 L233.50,166.51 L233.86,166.62 L234.23,166.73 L234.59,166.84 L234.96,166.95 L235.32,167.05 L235.69,167.16 L236.05,167.26 L236.41,167.36 L236.78,167.46 L237.14,167.56 L237.51,167.65 L237.87,167.74 L238.24,167.83 L238.60,167.92 L238.97,168.01 L239.33,168.09 L239.69,168.18 L240.06,168.26 L240.42,168.33 L240.79,168.41 L241.15,168.48 L241.52,168.56 L241.88,168.63 L242.24,168.69 L242.61,168.76 L242.97,168.82 L243.34,168.89 L243.70,168.95 L244.07,169.00 L244.43,169.06 L244.80,169.12 L245.16,169.17 L245.52,169.22 L245.89,169.27 L246.25,169.32 L246.62,169.36 L246.98,169.40 L247.35,169.45 L247.71,169.49 L248.08,169.53 L248.44,169.56 L248.80,169.60 L249.17,169.64 L249.53,169.67 L249.90,169.70 L250.26,169.73 L250.63,169.76 L250.99,169.79 L251.35,169.82 L251.72,169.84 L252.08,169.87 L252.45,169.89 L252.81,169.91 L253.18,169.93 L253.54,169.95 L253.91,169.97 L254.27,169.99 L254.63,170.01 L255.00,170.02 L255.36,170.04 L255.73,170.06 L256.09,170.07 L256.46,170.08 L256.82,170.10 L257.19,170.11 L257.55,170.12 L257.91,170.13 L258.28,170.14 L258.64,170.15 L259.01,170.16 L259.37,170.17 L259.74,170.18 L260.10,170.19 L260.46,170.19 L260.83,170.20 L261.19,170.21 L261.56,170.21 L261.92,170.22 L262.29,170.22 L262.65,170.23 L263.02,170.23 L263.38,170.24 L263.74,170.24 L264.11,170.25 L264.47,170.25 L264.84,170.25 L265.20,170.26 L265.57,170.26 L265.93,170.26 L266.30,170.27 L266.66,170.27 L267.02,170.27 L267.39,170.27 L267.75,170.27 L268.12,170.28 L268.48,170.28 L268.85,170.28 L269.21,170.28 L269.57,170.28 L269.94,170.28 L270.30,170.29 L270.67,170.29 L271.03,170.29 L271.40,170.29 L271.76,170.29 L272.13,170.29 L272.49,170.29 L272.85,170.29 L273.22,170.29 L273.58,170.29 L273.95,170.29 L274.31,170.29 L274.68,170.29 L275.04,170.29 L275.41,170.30 L275.77,170.30 L276.13,170.30 L276.50,170.30 L276.86,170.30 L277.23,170.30 L277.59,170.30 L277.96,170.30 L278.32,170.30 L278.68,170.30 L279.05,170.30 L279.41,170.30 L279.78,170.30 L280.14,170.30 L280.51,170.30 L280.87,170.30 L281.24,170.30 L281.60,170.30 L281.96,170.30 L282.33,170.30 L282.69,170.30 L283.06,170.30 L283.42,170.30 L283.79,170.30 L284.15,170.30 L284.52,170.30 L284.88,170.30 L285.24,170.30 L285.61,170.30 L285.97,170.30 L286.34,170.30 L286.70,170.30 L287.07,170.30 L287.43,170.30 L287.79,170.30 L288.16,170.30 L288.52,170.30 L288.89,170.30 L289.25,170.30 L289.62,170.30 L289.98,170.30 L290.35,170.30 L290.71,170.30 L291.07,170.30 L291.44,170.30 L291.80,170.30 L292.17,170.30 L292.53,170.30 L292.90,170.30 L293.26,170.30 L293.63,170.30 L293.99,170.30 L294.35,170.30 L294.72,170.30 L295.08,170.30 L295.45,170.30 L295.81,170.30 L296.18,170.30 L296.54,170.30 L296.90,170.30 L297.27,170.30 L297.63,170.30 L298.00,170.30 L298.36,170.30 L298.73,170.30 L299.09,170.30 L299.46,170.30 L299.82,170.30 L300.18,170.30 L300.55,170.30 L300.91,170.30 L301.28,170.30 L301.64,170.30 L302.01,170.30 L302.37,170.30 L302.74,170.30 L303.10,170.30 L303.46,170.30 L303.83,170.30 L304.19,170.30 L304.56,170.30 L304.92,170.30 L305.29,170.30 L305.65,170.30 L306.01,170.30 L306.38,170.30 L306.74,170.30 L307.11,170.30 L307.47,170.30 L307.84,170.30 L308.20,170.30 L308.57,170.30 L308.93,170.30" fill="none" stroke="#939393" stroke-width="2.1"/>
<line x1="72.10" y1="30.50" x2="72.10" y2="170.90" stroke="#222222" stroke-width="1.3"/>
<line x1="71.50" y1="170.30" x2="309.00" y2="170.30" stroke="#222222" stroke-width="1.3"/>
<line x1="66.20" y1="170.30" x2="72.10" y2="170.30" stroke="#222222" stroke-width="1.2"/>
<text x="66.00" y="174.60" font-size="12.2" text-anchor="end" fill="#474747" textLength="6.92" lengthAdjust="spacingAndGlyphs">0</text>
<line x1="66.20" y1="140.10" x2="72.10" y2="140.10" stroke="#222222" stroke-width="1.2"/>
<text x="64.30" y="144.40" font-size="12.2" text-anchor="end" fill="#474747" textLength="20.76" lengthAdjust="spacingAndGlyphs">100</text>
<line x1="66.20" y1="109.90" x2="72.10" y2="109.90" stroke="#222222" stroke-width="1.2"/>
<text x="64.30" y="114.20" font-size="12.2" text-anchor="end" fill="#474747" textLength="20.76" lengthAdjust="spacingAndGlyphs">200</text>
<line x1="66.20" y1="79.70" x2="72.10" y2="79.70" stroke="#222222" stroke-width="1.2"/>
<text x="64.30" y="84.00" font-size="12.2" text-anchor="end" fill="#474747" textLength="20.76" lengthAdjust="spacingAndGlyphs">300</text>
<line x1="66.20" y1="49.50" x2="72.10" y2="49.50" stroke="#222222" stroke-width="1.2"/>
<text x="64.30" y="53.80" font-size="12.2" text-anchor="end" fill="#474747" textLength="20.76" lengthAdjust="spacingAndGlyphs">400</text>
<line x1="99.40" y1="170.30" x2="99.40" y2="175.90" stroke="#222222" stroke-width="1.2"/>
<text x="99.40" y="189.40" font-size="12.4" text-anchor="middle" fill="#474747" textLength="21.93" lengthAdjust="spacingAndGlyphs">500</text>
<line x1="190.50" y1="170.30" x2="190.50" y2="175.90" stroke="#222222" stroke-width="1.2"/>
<text x="190.50" y="189.40" font-size="12.4" text-anchor="middle" fill="#474747" textLength="29.24" lengthAdjust="spacingAndGlyphs">1000</text>
<line x1="281.60" y1="170.30" x2="281.60" y2="175.90" stroke="#222222" stroke-width="1.2"/>
<text x="281.60" y="189.40" font-size="12.4" text-anchor="middle" fill="#474747" textLength="29.24" lengthAdjust="spacingAndGlyphs">1500</text>
<text x="190.70" y="204.40" font-size="13.6" text-anchor="middle" fill="#474747" textLength="66.50" lengthAdjust="spacingAndGlyphs">Mass (kDa)</text>
<text x="36.30" y="99.50" font-size="14.6" text-anchor="middle" fill="#474747" textLength="43.20" lengthAdjust="spacingAndGlyphs" transform="rotate(-90 36.30 99.50)">Counts</text>
<text x="134.60" y="25.40" font-size="14.4" text-anchor="start" fill="#474747">S</text>
<text x="146.00" y="20.20" font-size="9.0" text-anchor="start" fill="#474747" font-style="italic" textLength="32.10" lengthAdjust="spacingAndGlyphs">1xACE2</text>
<text x="82.70" y="57.80" font-size="14.4" text-anchor="start" fill="#474747">S</text>
<text x="92.50" y="52.60" font-size="9.0" text-anchor="start" fill="#474747" font-style="italic" textLength="33.20" lengthAdjust="spacingAndGlyphs">0xACE2</text>
<text x="161.80" y="95.40" font-size="14.4" text-anchor="start" fill="#474747">S</text>
<text x="172.90" y="90.20" font-size="9.0" text-anchor="start" fill="#474747" font-style="italic" textLength="32.40" lengthAdjust="spacingAndGlyphs">2xACE2</text>
<text x="203.60" y="150.20" font-size="14.4" text-anchor="start" fill="#474747">S</text>
<text x="213.90" y="145.00" font-size="9.0" text-anchor="start" fill="#474747" font-style="italic" textLength="32.80" lengthAdjust="spacingAndGlyphs">3xACE2</text>
<text x="371.80" y="45.20" font-size="14.4" text-anchor="start" fill="#474747" textLength="9.20" lengthAdjust="spacingAndGlyphs">S</text>
<text x="381.20" y="39.60" font-size="10.3" text-anchor="start" fill="#474747" font-style="italic" textLength="20.60" lengthAdjust="spacingAndGlyphs">total</text>
<line x1="405.90" y1="39.80" x2="413.00" y2="39.80" stroke="#474747" stroke-width="0.95"/>
<line x1="405.90" y1="43.20" x2="413.00" y2="43.20" stroke="#474747" stroke-width="0.95"/>
<text x="418.00" y="45.20" font-size="14.4" text-anchor="start" fill="#474747" textLength="9.20" lengthAdjust="spacingAndGlyphs">S</text>
<text x="427.40" y="39.60" font-size="10.3" text-anchor="start" fill="#474747" font-style="italic" textLength="38.90" lengthAdjust="spacingAndGlyphs">0xACE2</text>
<line x1="470.60" y1="42.15" x2="477.90" y2="42.15" stroke="#474747" stroke-width="1.0"/>
<line x1="474.25" y1="38.50" x2="474.25" y2="45.80" stroke="#474747" stroke-width="1.0"/>
<text x="482.70" y="45.20" font-size="14.4" text-anchor="start" fill="#474747" textLength="9.20" lengthAdjust="spacingAndGlyphs">S</text>
<text x="492.40" y="39.60" font-size="10.3" text-anchor="start" fill="#474747" font-style="italic" textLength="38.20" lengthAdjust="spacingAndGlyphs">1xACE2</text>
<line x1="532.20" y1="42.15" x2="538.90" y2="42.15" stroke="#474747" stroke-width="1.0"/>
<line x1="535.55" y1="38.80" x2="535.55" y2="45.50" stroke="#474747" stroke-width="1.0"/>
<text x="543.80" y="45.20" font-size="14.4" text-anchor="start" fill="#474747" textLength="9.20" lengthAdjust="spacingAndGlyphs">S</text>
<text x="553.20" y="39.60" font-size="10.3" text-anchor="start" fill="#474747" font-style="italic" textLength="38.70" lengthAdjust="spacingAndGlyphs">2xACE2</text>
<line x1="593.50" y1="42.15" x2="599.60" y2="42.15" stroke="#474747" stroke-width="1.0"/>
<line x1="596.55" y1="39.10" x2="596.55" y2="45.20" stroke="#474747" stroke-width="1.0"/>
<text x="604.10" y="45.20" font-size="14.4" text-anchor="start" fill="#474747" textLength="9.20" lengthAdjust="spacingAndGlyphs">S</text>
<text x="613.50" y="39.60" font-size="10.3" text-anchor="start" fill="#474747" font-style="italic" textLength="39.10" lengthAdjust="spacingAndGlyphs">3xACE2</text>
<text x="372.20" y="100.40" font-size="14.4" text-anchor="start" fill="#474747" textLength="9.20" lengthAdjust="spacingAndGlyphs">S</text>
<text x="382.00" y="94.70" font-size="10.3" text-anchor="start" fill="#474747" font-style="italic" textLength="33.60" lengthAdjust="spacingAndGlyphs">1xRBD</text>
<text x="417.00" y="100.40" font-size="13.5" text-anchor="start" fill="#474747" textLength="61.60" lengthAdjust="spacingAndGlyphs">ocupancy</text>
<line x1="485.20" y1="95.00" x2="492.10" y2="95.00" stroke="#474747" stroke-width="0.95"/>
<line x1="485.20" y1="98.40" x2="492.10" y2="98.40" stroke="#474747" stroke-width="0.95"/>
<line x1="502.60" y1="97.10" x2="674.60" y2="97.10" stroke="#555" stroke-width="1.1"/>
<text x="502.00" y="93.10" font-size="14.4" text-anchor="start" fill="#474747" textLength="9.20" lengthAdjust="spacingAndGlyphs">S</text>
<text x="512.20" y="87.50" font-size="10.3" text-anchor="start" fill="#474747" font-style="italic" textLength="40.00" lengthAdjust="spacingAndGlyphs">1xACE2</text>
<line x1="553.00" y1="90.05" x2="560.60" y2="90.05" stroke="#474747" stroke-width="1.0"/>
<line x1="556.80" y1="86.25" x2="556.80" y2="93.85" stroke="#474747" stroke-width="1.0"/>
<text x="565.20" y="93.10" font-size="14.4" text-anchor="start" fill="#474747" textLength="9.20" lengthAdjust="spacingAndGlyphs">S</text>
<text x="575.10" y="87.50" font-size="10.3" text-anchor="start" fill="#474747" font-style="italic" textLength="39.20" lengthAdjust="spacingAndGlyphs">2xACE2</text>
<line x1="615.20" y1="90.05" x2="621.90" y2="90.05" stroke="#474747" stroke-width="1.0"/>
<line x1="618.55" y1="86.70" x2="618.55" y2="93.40" stroke="#474747" stroke-width="1.0"/>
<text x="626.70" y="93.10" font-size="14.4" text-anchor="start" fill="#474747" textLength="9.20" lengthAdjust="spacingAndGlyphs">S</text>
<text x="636.40" y="87.50" font-size="10.3" text-anchor="start" fill="#474747" font-style="italic" textLength="38.70" lengthAdjust="spacingAndGlyphs">3xACE2</text>
<text x="574.10" y="113.90" font-size="14.4" text-anchor="start" fill="#474747" textLength="9.20" lengthAdjust="spacingAndGlyphs">S</text>
<text x="583.70" y="108.30" font-size="10.3" text-anchor="start" fill="#474747" font-style="italic" textLength="21.20" lengthAdjust="spacingAndGlyphs">total</text>
<text x="372.20" y="160.20" font-size="14.4" text-anchor="start" fill="#474747" textLength="9.20" lengthAdjust="spacingAndGlyphs">S</text>
<text x="381.40" y="154.50" font-size="10.3" text-anchor="start" fill="#474747" font-style="italic" textLength="34.20" lengthAdjust="spacingAndGlyphs">2xRBD</text>
<text x="417.00" y="160.20" font-size="13.5" text-anchor="start" fill="#474747" textLength="61.60" lengthAdjust="spacingAndGlyphs">ocupancy</text>
<line x1="485.20" y1="154.80" x2="492.10" y2="154.80" stroke="#474747" stroke-width="0.95"/>
<line x1="485.20" y1="158.20" x2="492.10" y2="158.20" stroke="#474747" stroke-width="0.95"/>
<line x1="502.30" y1="156.10" x2="610.90" y2="156.10" stroke="#555" stroke-width="1.1"/>
<text x="501.70" y="151.50" font-size="14.4" text-anchor="start" fill="#474747" textLength="9.20" lengthAdjust="spacingAndGlyphs">S</text>
<text x="510.10" y="145.90" font-size="10.3" text-anchor="start" fill="#474747" font-style="italic" textLength="40.10" lengthAdjust="spacingAndGlyphs">2xACE2</text>
<line x1="550.70" y1="148.45" x2="557.00" y2="148.45" stroke="#474747" stroke-width="1.0"/>
<line x1="553.85" y1="145.30" x2="553.85" y2="151.60" stroke="#474747" stroke-width="1.0"/>
<text x="561.90" y="151.50" font-size="14.4" text-anchor="start" fill="#474747" textLength="9.20" lengthAdjust="spacingAndGlyphs">S</text>
<text x="571.20" y="145.90" font-size="10.3" text-anchor="start" fill="#474747" font-style="italic" textLength="40.20" lengthAdjust="spacingAndGlyphs">3xACE2</text>
<text x="542.20" y="174.70" font-size="14.4" text-anchor="start" fill="#474747" textLength="9.20" lengthAdjust="spacingAndGlyphs">S</text>
<text x="550.30" y="169.10" font-size="10.3" text-anchor="start" fill="#474747" font-style="italic" textLength="21.80" lengthAdjust="spacingAndGlyphs">total</text>
<rect x="85.70" y="270.20" width="159.10" height="152.50" fill="none" stroke="#222222" stroke-width="1.5"/>
<line x1="92.95" y1="422.70" x2="92.95" y2="430.70" stroke="#222222" stroke-width="1.35"/>
<line x1="111.00" y1="422.70" x2="111.00" y2="427.70" stroke="#222222" stroke-width="1.35"/>
<line x1="129.05" y1="422.70" x2="129.05" y2="430.70" stroke="#222222" stroke-width="1.35"/>
<line x1="147.10" y1="422.70" x2="147.10" y2="427.70" stroke="#222222" stroke-width="1.35"/>
<line x1="165.15" y1="422.70" x2="165.15" y2="430.70" stroke="#222222" stroke-width="1.35"/>
<line x1="183.20" y1="422.70" x2="183.20" y2="427.70" stroke="#222222" stroke-width="1.35"/>
<line x1="201.25" y1="422.70" x2="201.25" y2="430.70" stroke="#222222" stroke-width="1.35"/>
<line x1="219.30" y1="422.70" x2="219.30" y2="427.70" stroke="#222222" stroke-width="1.35"/>
<line x1="237.35" y1="422.70" x2="237.35" y2="430.70" stroke="#222222" stroke-width="1.35"/>
<text x="96.50" y="434.80" font-size="13.6" text-anchor="end" fill="#474747" transform="rotate(-90 96.50 434.80)">0</text>
<text x="132.60" y="434.80" font-size="13.6" text-anchor="end" fill="#474747" transform="rotate(-90 132.60 434.80)">25</text>
<text x="168.70" y="434.80" font-size="13.6" text-anchor="end" fill="#474747" transform="rotate(-90 168.70 434.80)">50</text>
<text x="204.80" y="434.80" font-size="13.6" text-anchor="end" fill="#474747" transform="rotate(-90 204.80 434.80)">75</text>
<g transform="translate(240.90 434.80) rotate(-90)">
<text x="0" y="0" font-size="13.6" text-anchor="end" fill="#474747">00</text>
<path d="M-18.06,0 L-18.06,-9.74 M-18.06,-9.74 Q-18.88,-7.89 -20.10,-7.48" fill="none" stroke="#474747" stroke-width="1.1"/>
</g>
<line x1="77.90" y1="416.00" x2="85.70" y2="416.00" stroke="#222222" stroke-width="1.35"/>
<line x1="77.90" y1="379.88" x2="85.70" y2="379.88" stroke="#222222" stroke-width="1.35"/>
<line x1="77.90" y1="343.75" x2="85.70" y2="343.75" stroke="#222222" stroke-width="1.35"/>
<line x1="77.90" y1="307.62" x2="85.70" y2="307.62" stroke="#222222" stroke-width="1.35"/>
<line x1="77.90" y1="271.50" x2="85.70" y2="271.50" stroke="#222222" stroke-width="1.35"/>
<line x1="80.20" y1="397.94" x2="85.70" y2="397.94" stroke="#222222" stroke-width="1.35"/>
<line x1="80.20" y1="361.81" x2="85.70" y2="361.81" stroke="#222222" stroke-width="1.35"/>
<line x1="80.20" y1="325.69" x2="85.70" y2="325.69" stroke="#222222" stroke-width="1.35"/>
<line x1="80.20" y1="289.56" x2="85.70" y2="289.56" stroke="#222222" stroke-width="1.35"/>
<text x="76.10" y="420.70" font-size="14.2" text-anchor="end" fill="#474747">0</text>
<text x="76.10" y="384.57" font-size="14.2" text-anchor="end" fill="#474747">0.25</text>
<text x="76.10" y="348.45" font-size="14.2" text-anchor="end" fill="#474747">0.50</text>
<text x="76.10" y="312.32" font-size="14.2" text-anchor="end" fill="#474747">0.75</text>
<path d="M70.50,266.30 L70.50,276.50 M70.50,266.30 Q69.50,268.30 67.10,268.60" fill="none" stroke="#474747" stroke-width="1.15"/>
<rect x="86.20" y="467.50" width="159.10" height="150.60" fill="none" stroke="#222222" stroke-width="1.5"/>
<line x1="93.45" y1="618.10" x2="93.45" y2="626.10" stroke="#222222" stroke-width="1.35"/>
<line x1="111.50" y1="618.10" x2="111.50" y2="623.10" stroke="#222222" stroke-width="1.35"/>
<line x1="129.55" y1="618.10" x2="129.55" y2="626.10" stroke="#222222" stroke-width="1.35"/>
<line x1="147.60" y1="618.10" x2="147.60" y2="623.10" stroke="#222222" stroke-width="1.35"/>
<line x1="165.65" y1="618.10" x2="165.65" y2="626.10" stroke="#222222" stroke-width="1.35"/>
<line x1="183.70" y1="618.10" x2="183.70" y2="623.10" stroke="#222222" stroke-width="1.35"/>
<line x1="201.75" y1="618.10" x2="201.75" y2="626.10" stroke="#222222" stroke-width="1.35"/>
<line x1="219.80" y1="618.10" x2="219.80" y2="623.10" stroke="#222222" stroke-width="1.35"/>
<line x1="237.85" y1="618.10" x2="237.85" y2="626.10" stroke="#222222" stroke-width="1.35"/>
<text x="97.00" y="630.20" font-size="13.6" text-anchor="end" fill="#474747" transform="rotate(-90 97.00 630.20)">0</text>
<text x="133.10" y="630.20" font-size="13.6" text-anchor="end" fill="#474747" transform="rotate(-90 133.10 630.20)">25</text>
<text x="169.20" y="630.20" font-size="13.6" text-anchor="end" fill="#474747" transform="rotate(-90 169.20 630.20)">50</text>
<text x="205.30" y="630.20" font-size="13.6" text-anchor="end" fill="#474747" transform="rotate(-90 205.30 630.20)">75</text>
<g transform="translate(241.40 630.20) rotate(-90)">
<text x="0" y="0" font-size="13.6" text-anchor="end" fill="#474747">00</text>
<path d="M-18.06,0 L-18.06,-9.74 M-18.06,-9.74 Q-18.88,-7.89 -20.10,-7.48" fill="none" stroke="#474747" stroke-width="1.1"/>
</g>
<line x1="78.40" y1="601.40" x2="86.20" y2="601.40" stroke="#222222" stroke-width="1.35"/>
<line x1="78.40" y1="563.30" x2="86.20" y2="563.30" stroke="#222222" stroke-width="1.35"/>
<line x1="78.40" y1="525.20" x2="86.20" y2="525.20" stroke="#222222" stroke-width="1.35"/>
<line x1="78.40" y1="487.10" x2="86.20" y2="487.10" stroke="#222222" stroke-width="1.35"/>
<line x1="80.70" y1="582.35" x2="86.20" y2="582.35" stroke="#222222" stroke-width="1.35"/>
<line x1="80.70" y1="544.25" x2="86.20" y2="544.25" stroke="#222222" stroke-width="1.35"/>
<line x1="80.70" y1="506.15" x2="86.20" y2="506.15" stroke="#222222" stroke-width="1.35"/>
<text x="76.60" y="606.10" font-size="14.2" text-anchor="end" fill="#474747">0</text>
<text x="76.60" y="568.00" font-size="14.2" text-anchor="end" fill="#474747">0.2</text>
<text x="76.60" y="529.90" font-size="14.2" text-anchor="end" fill="#474747">0.4</text>
<text x="76.60" y="491.80" font-size="14.2" text-anchor="end" fill="#474747">0.6</text>
<rect x="251.00" y="270.20" width="159.10" height="152.50" fill="none" stroke="#222222" stroke-width="1.5"/>
<line x1="258.25" y1="422.70" x2="258.25" y2="430.70" stroke="#222222" stroke-width="1.35"/>
<line x1="276.30" y1="422.70" x2="276.30" y2="427.70" stroke="#222222" stroke-width="1.35"/>
<line x1="294.35" y1="422.70" x2="294.35" y2="430.70" stroke="#222222" stroke-width="1.35"/>
<line x1="312.40" y1="422.70" x2="312.40" y2="427.70" stroke="#222222" stroke-width="1.35"/>
<line x1="330.45" y1="422.70" x2="330.45" y2="430.70" stroke="#222222" stroke-width="1.35"/>
<line x1="348.50" y1="422.70" x2="348.50" y2="427.70" stroke="#222222" stroke-width="1.35"/>
<line x1="366.55" y1="422.70" x2="366.55" y2="430.70" stroke="#222222" stroke-width="1.35"/>
<line x1="384.60" y1="422.70" x2="384.60" y2="427.70" stroke="#222222" stroke-width="1.35"/>
<line x1="402.65" y1="422.70" x2="402.65" y2="430.70" stroke="#222222" stroke-width="1.35"/>
<text x="261.80" y="434.80" font-size="13.6" text-anchor="end" fill="#474747" transform="rotate(-90 261.80 434.80)">0</text>
<text x="297.90" y="434.80" font-size="13.6" text-anchor="end" fill="#474747" transform="rotate(-90 297.90 434.80)">25</text>
<text x="334.00" y="434.80" font-size="13.6" text-anchor="end" fill="#474747" transform="rotate(-90 334.00 434.80)">50</text>
<text x="370.10" y="434.80" font-size="13.6" text-anchor="end" fill="#474747" transform="rotate(-90 370.10 434.80)">75</text>
<g transform="translate(406.20 434.80) rotate(-90)">
<text x="0" y="0" font-size="13.6" text-anchor="end" fill="#474747">00</text>
<path d="M-18.06,0 L-18.06,-9.74 M-18.06,-9.74 Q-18.88,-7.89 -20.10,-7.48" fill="none" stroke="#474747" stroke-width="1.1"/>
</g>
<rect x="251.70" y="467.50" width="159.10" height="150.60" fill="none" stroke="#222222" stroke-width="1.5"/>
<line x1="258.95" y1="618.10" x2="258.95" y2="626.10" stroke="#222222" stroke-width="1.35"/>
<line x1="277.00" y1="618.10" x2="277.00" y2="623.10" stroke="#222222" stroke-width="1.35"/>
<line x1="295.05" y1="618.10" x2="295.05" y2="626.10" stroke="#222222" stroke-width="1.35"/>
<line x1="313.10" y1="618.10" x2="313.10" y2="623.10" stroke="#222222" stroke-width="1.35"/>
<line x1="331.15" y1="618.10" x2="331.15" y2="626.10" stroke="#222222" stroke-width="1.35"/>
<line x1="349.20" y1="618.10" x2="349.20" y2="623.10" stroke="#222222" stroke-width="1.35"/>
<line x1="367.25" y1="618.10" x2="367.25" y2="626.10" stroke="#222222" stroke-width="1.35"/>
<line x1="385.30" y1="618.10" x2="385.30" y2="623.10" stroke="#222222" stroke-width="1.35"/>
<line x1="403.35" y1="618.10" x2="403.35" y2="626.10" stroke="#222222" stroke-width="1.35"/>
<text x="262.50" y="630.20" font-size="13.6" text-anchor="end" fill="#474747" transform="rotate(-90 262.50 630.20)">0</text>
<text x="298.60" y="630.20" font-size="13.6" text-anchor="end" fill="#474747" transform="rotate(-90 298.60 630.20)">25</text>
<text x="334.70" y="630.20" font-size="13.6" text-anchor="end" fill="#474747" transform="rotate(-90 334.70 630.20)">50</text>
<text x="370.80" y="630.20" font-size="13.6" text-anchor="end" fill="#474747" transform="rotate(-90 370.80 630.20)">75</text>
<g transform="translate(406.90 630.20) rotate(-90)">
<text x="0" y="0" font-size="13.6" text-anchor="end" fill="#474747">00</text>
<path d="M-18.06,0 L-18.06,-9.74 M-18.06,-9.74 Q-18.88,-7.89 -20.10,-7.48" fill="none" stroke="#474747" stroke-width="1.1"/>
</g>
<rect x="416.70" y="270.20" width="159.10" height="152.50" fill="none" stroke="#222222" stroke-width="1.5"/>
<line x1="423.95" y1="422.70" x2="423.95" y2="430.70" stroke="#222222" stroke-width="1.35"/>
<line x1="442.00" y1="422.70" x2="442.00" y2="427.70" stroke="#222222" stroke-width="1.35"/>
<line x1="460.05" y1="422.70" x2="460.05" y2="430.70" stroke="#222222" stroke-width="1.35"/>
<line x1="478.10" y1="422.70" x2="478.10" y2="427.70" stroke="#222222" stroke-width="1.35"/>
<line x1="496.15" y1="422.70" x2="496.15" y2="430.70" stroke="#222222" stroke-width="1.35"/>
<line x1="514.20" y1="422.70" x2="514.20" y2="427.70" stroke="#222222" stroke-width="1.35"/>
<line x1="532.25" y1="422.70" x2="532.25" y2="430.70" stroke="#222222" stroke-width="1.35"/>
<line x1="550.30" y1="422.70" x2="550.30" y2="427.70" stroke="#222222" stroke-width="1.35"/>
<line x1="568.35" y1="422.70" x2="568.35" y2="430.70" stroke="#222222" stroke-width="1.35"/>
<text x="427.50" y="434.80" font-size="13.6" text-anchor="end" fill="#474747" transform="rotate(-90 427.50 434.80)">0</text>
<text x="463.60" y="434.80" font-size="13.6" text-anchor="end" fill="#474747" transform="rotate(-90 463.60 434.80)">25</text>
<text x="499.70" y="434.80" font-size="13.6" text-anchor="end" fill="#474747" transform="rotate(-90 499.70 434.80)">50</text>
<text x="535.80" y="434.80" font-size="13.6" text-anchor="end" fill="#474747" transform="rotate(-90 535.80 434.80)">75</text>
<g transform="translate(571.90 434.80) rotate(-90)">
<text x="0" y="0" font-size="13.6" text-anchor="end" fill="#474747">00</text>
<path d="M-18.06,0 L-18.06,-9.74 M-18.06,-9.74 Q-18.88,-7.89 -20.10,-7.48" fill="none" stroke="#474747" stroke-width="1.1"/>
</g>
<rect x="417.30" y="467.50" width="159.10" height="150.60" fill="none" stroke="#222222" stroke-width="1.5"/>
<line x1="424.55" y1="618.10" x2="424.55" y2="626.10" stroke="#222222" stroke-width="1.35"/>
<line x1="442.60" y1="618.10" x2="442.60" y2="623.10" stroke="#222222" stroke-width="1.35"/>
<line x1="460.65" y1="618.10" x2="460.65" y2="626.10" stroke="#222222" stroke-width="1.35"/>
<line x1="478.70" y1="618.10" x2="478.70" y2="623.10" stroke="#222222" stroke-width="1.35"/>
<line x1="496.75" y1="618.10" x2="496.75" y2="626.10" stroke="#222222" stroke-width="1.35"/>
<line x1="514.80" y1="618.10" x2="514.80" y2="623.10" stroke="#222222" stroke-width="1.35"/>
<line x1="532.85" y1="618.10" x2="532.85" y2="626.10" stroke="#222222" stroke-width="1.35"/>
<line x1="550.90" y1="618.10" x2="550.90" y2="623.10" stroke="#222222" stroke-width="1.35"/>
<line x1="568.95" y1="618.10" x2="568.95" y2="626.10" stroke="#222222" stroke-width="1.35"/>
<text x="428.10" y="630.20" font-size="13.6" text-anchor="end" fill="#474747" transform="rotate(-90 428.10 630.20)">0</text>
<text x="464.20" y="630.20" font-size="13.6" text-anchor="end" fill="#474747" transform="rotate(-90 464.20 630.20)">25</text>
<text x="500.30" y="630.20" font-size="13.6" text-anchor="end" fill="#474747" transform="rotate(-90 500.30 630.20)">50</text>
<text x="536.40" y="630.20" font-size="13.6" text-anchor="end" fill="#474747" transform="rotate(-90 536.40 630.20)">75</text>
<g transform="translate(572.50 630.20) rotate(-90)">
<text x="0" y="0" font-size="13.6" text-anchor="end" fill="#474747">00</text>
<path d="M-18.06,0 L-18.06,-9.74 M-18.06,-9.74 Q-18.88,-7.89 -20.10,-7.48" fill="none" stroke="#474747" stroke-width="1.1"/>
</g>
<line x1="129.05" y1="322.94" x2="129.05" y2="344.62" stroke="#5ab4e6" stroke-width="1.05"/>
<line x1="165.15" y1="290.28" x2="165.15" y2="310.51" stroke="#5ab4e6" stroke-width="1.05"/>
<line x1="201.25" y1="284.07" x2="201.25" y2="297.08" stroke="#5ab4e6" stroke-width="1.05"/>
<line x1="237.35" y1="277.28" x2="237.35" y2="293.17" stroke="#5ab4e6" stroke-width="1.05"/>
<path d="M92.95,416.00 L129.05,333.78 L165.15,300.40 L201.25,290.57 L237.35,285.23" fill="none" stroke="#5ab4e6" stroke-width="1.3" stroke-linejoin="round"/>
<circle cx="92.95" cy="416.00" r="3.1" fill="#5ab4e6"/>
<circle cx="129.05" cy="333.78" r="3.1" fill="#5ab4e6"/>
<circle cx="165.15" cy="300.40" r="3.1" fill="#5ab4e6"/>
<circle cx="201.25" cy="290.57" r="3.1" fill="#5ab4e6"/>
<circle cx="237.35" cy="285.23" r="3.1" fill="#5ab4e6"/>
<line x1="129.05" y1="387.24" x2="129.05" y2="400.25" stroke="#17a074" stroke-width="1.05"/>
<line x1="165.15" y1="384.50" x2="165.15" y2="396.06" stroke="#17a074" stroke-width="1.05"/>
<line x1="201.25" y1="376.26" x2="201.25" y2="395.05" stroke="#17a074" stroke-width="1.05"/>
<line x1="237.35" y1="376.12" x2="237.35" y2="390.57" stroke="#17a074" stroke-width="1.05"/>
<path d="M92.95,416.00 L129.05,393.75 L165.15,390.28 L201.25,385.65 L237.35,383.34" fill="none" stroke="#17a074" stroke-width="1.3" stroke-linejoin="round"/>
<circle cx="92.95" cy="416.00" r="3.1" fill="#17a074"/>
<circle cx="129.05" cy="393.75" r="3.1" fill="#17a074"/>
<circle cx="165.15" cy="390.28" r="3.1" fill="#17a074"/>
<circle cx="201.25" cy="385.65" r="3.1" fill="#17a074"/>
<circle cx="237.35" cy="383.34" r="3.1" fill="#17a074"/>
<line x1="129.05" y1="337.10" x2="129.05" y2="350.11" stroke="#111111" stroke-width="1.05"/>
<line x1="165.15" y1="306.90" x2="165.15" y2="324.24" stroke="#111111" stroke-width="1.05"/>
<line x1="201.25" y1="292.74" x2="201.25" y2="307.19" stroke="#111111" stroke-width="1.05"/>
<line x1="237.35" y1="287.97" x2="237.35" y2="302.42" stroke="#111111" stroke-width="1.05"/>
<path d="M92.95,416.00 L129.05,343.61 L165.15,315.57 L201.25,299.97 L237.35,295.20" fill="none" stroke="#111111" stroke-width="1.3" stroke-linejoin="round"/>
<circle cx="129.05" cy="343.61" r="3.1" fill="#111111"/>
<circle cx="165.15" cy="315.57" r="3.1" fill="#111111"/>
<circle cx="201.25" cy="299.97" r="3.1" fill="#111111"/>
<circle cx="237.35" cy="295.20" r="3.1" fill="#111111"/>
<line x1="294.35" y1="325.69" x2="294.35" y2="334.36" stroke="#9a9a9a" stroke-width="1.05"/>
<line x1="330.45" y1="303.29" x2="330.45" y2="311.96" stroke="#9a9a9a" stroke-width="1.05"/>
<line x1="366.55" y1="288.84" x2="366.55" y2="309.07" stroke="#9a9a9a" stroke-width="1.05"/>
<line x1="402.65" y1="288.84" x2="402.65" y2="303.29" stroke="#9a9a9a" stroke-width="1.05"/>
<path d="M258.25,416.00 L294.35,330.02 L330.45,307.62 L366.55,298.95 L402.65,296.06" fill="none" stroke="#9a9a9a" stroke-width="1.3" stroke-linejoin="round"/>
<circle cx="258.25" cy="416.00" r="3.1" fill="#9a9a9a"/>
<circle cx="294.35" cy="330.02" r="3.1" fill="#9a9a9a"/>
<circle cx="330.45" cy="307.62" r="3.1" fill="#9a9a9a"/>
<circle cx="366.55" cy="298.95" r="3.1" fill="#9a9a9a"/>
<circle cx="402.65" cy="296.06" r="3.1" fill="#9a9a9a"/>
<line x1="294.35" y1="321.35" x2="294.35" y2="327.13" stroke="#e6a12e" stroke-width="1.05"/>
<line x1="330.45" y1="294.91" x2="330.45" y2="300.69" stroke="#e6a12e" stroke-width="1.05"/>
<line x1="366.55" y1="290.29" x2="366.55" y2="296.06" stroke="#e6a12e" stroke-width="1.05"/>
<line x1="402.65" y1="286.38" x2="402.65" y2="292.16" stroke="#e6a12e" stroke-width="1.05"/>
<path d="M258.25,416.00 L294.35,324.24 L330.45,297.80 L366.55,293.18 L402.65,289.27" fill="none" stroke="#e6a12e" stroke-width="1.3" stroke-linejoin="round"/>
<circle cx="258.25" cy="416.00" r="3.1" fill="#e6a12e"/>
<circle cx="294.35" cy="324.24" r="3.1" fill="#e6a12e"/>
<circle cx="330.45" cy="297.80" r="3.1" fill="#e6a12e"/>
<circle cx="366.55" cy="293.18" r="3.1" fill="#e6a12e"/>
<circle cx="402.65" cy="289.27" r="3.1" fill="#e6a12e"/>
<line x1="294.35" y1="341.87" x2="294.35" y2="350.54" stroke="#eee04a" stroke-width="1.05"/>
<line x1="330.45" y1="303.29" x2="330.45" y2="311.96" stroke="#eee04a" stroke-width="1.05"/>
<line x1="366.55" y1="297.51" x2="366.55" y2="306.18" stroke="#eee04a" stroke-width="1.05"/>
<line x1="402.65" y1="281.62" x2="402.65" y2="293.17" stroke="#eee04a" stroke-width="1.05"/>
<path d="M258.25,416.00 L294.35,346.21 L330.45,307.62 L366.55,301.85 L402.65,287.39" fill="none" stroke="#eee04a" stroke-width="1.3" stroke-linejoin="round"/>
<circle cx="258.25" cy="416.00" r="3.1" fill="#eee04a"/>
<circle cx="294.35" cy="346.21" r="3.1" fill="#eee04a"/>
<circle cx="330.45" cy="307.62" r="3.1" fill="#eee04a"/>
<circle cx="366.55" cy="301.85" r="3.1" fill="#eee04a"/>
<circle cx="402.65" cy="287.39" r="3.1" fill="#eee04a"/>
<line x1="294.35" y1="331.76" x2="294.35" y2="337.54" stroke="#1a70b3" stroke-width="1.05"/>
<line x1="330.45" y1="307.19" x2="330.45" y2="312.97" stroke="#1a70b3" stroke-width="1.05"/>
<line x1="366.55" y1="295.05" x2="366.55" y2="300.83" stroke="#1a70b3" stroke-width="1.05"/>
<line x1="402.65" y1="290.00" x2="402.65" y2="295.78" stroke="#1a70b3" stroke-width="1.05"/>
<path d="M258.25,416.00 L294.35,334.65 L330.45,310.08 L366.55,297.94 L402.65,292.89" fill="none" stroke="#1a70b3" stroke-width="1.3" stroke-linejoin="round"/>
<circle cx="258.25" cy="416.00" r="3.1" fill="#1a70b3"/>
<circle cx="294.35" cy="334.65" r="3.1" fill="#1a70b3"/>
<circle cx="330.45" cy="310.08" r="3.1" fill="#1a70b3"/>
<circle cx="366.55" cy="297.94" r="3.1" fill="#1a70b3"/>
<circle cx="402.65" cy="292.89" r="3.1" fill="#1a70b3"/>
<line x1="294.35" y1="337.10" x2="294.35" y2="350.11" stroke="#111111" stroke-width="1.05"/>
<line x1="330.45" y1="306.90" x2="330.45" y2="324.24" stroke="#111111" stroke-width="1.05"/>
<line x1="366.55" y1="292.74" x2="366.55" y2="307.19" stroke="#111111" stroke-width="1.05"/>
<line x1="402.65" y1="287.97" x2="402.65" y2="302.42" stroke="#111111" stroke-width="1.05"/>
<path d="M258.25,416.00 L294.35,343.61 L330.45,315.57 L366.55,299.97 L402.65,295.20" fill="none" stroke="#111111" stroke-width="1.3" stroke-linejoin="round"/>
<circle cx="294.35" cy="343.61" r="3.1" fill="#111111"/>
<circle cx="330.45" cy="315.57" r="3.1" fill="#111111"/>
<circle cx="366.55" cy="299.97" r="3.1" fill="#111111"/>
<circle cx="402.65" cy="295.20" r="3.1" fill="#111111"/>
<line x1="460.05" y1="339.42" x2="460.05" y2="350.97" stroke="#d6622a" stroke-width="1.05"/>
<line x1="496.15" y1="316.58" x2="496.15" y2="322.36" stroke="#d6622a" stroke-width="1.05"/>
<line x1="532.25" y1="301.85" x2="532.25" y2="310.51" stroke="#d6622a" stroke-width="1.05"/>
<line x1="568.35" y1="297.51" x2="568.35" y2="303.29" stroke="#d6622a" stroke-width="1.05"/>
<path d="M423.95,416.00 L460.05,345.19 L496.15,319.47 L532.25,306.18 L568.35,300.40" fill="none" stroke="#d6622a" stroke-width="1.3" stroke-linejoin="round"/>
<circle cx="423.95" cy="416.00" r="3.1" fill="#d6622a"/>
<circle cx="460.05" cy="345.19" r="3.1" fill="#d6622a"/>
<circle cx="496.15" cy="319.47" r="3.1" fill="#d6622a"/>
<circle cx="532.25" cy="306.18" r="3.1" fill="#d6622a"/>
<circle cx="568.35" cy="300.40" r="3.1" fill="#d6622a"/>
<line x1="460.05" y1="342.74" x2="460.05" y2="351.41" stroke="#d07fae" stroke-width="1.05"/>
<line x1="496.15" y1="318.03" x2="496.15" y2="323.81" stroke="#d07fae" stroke-width="1.05"/>
<line x1="532.25" y1="299.82" x2="532.25" y2="305.60" stroke="#d07fae" stroke-width="1.05"/>
<line x1="568.35" y1="298.67" x2="568.35" y2="304.45" stroke="#d07fae" stroke-width="1.05"/>
<path d="M423.95,416.00 L460.05,347.07 L496.15,320.92 L532.25,302.71 L568.35,301.56" fill="none" stroke="#d07fae" stroke-width="1.3" stroke-linejoin="round"/>
<circle cx="423.95" cy="416.00" r="3.1" fill="#d07fae"/>
<circle cx="460.05" cy="347.07" r="3.1" fill="#d07fae"/>
<circle cx="496.15" cy="320.92" r="3.1" fill="#d07fae"/>
<circle cx="532.25" cy="302.71" r="3.1" fill="#d07fae"/>
<circle cx="568.35" cy="301.56" r="3.1" fill="#d07fae"/>
<line x1="460.05" y1="337.10" x2="460.05" y2="350.11" stroke="#111111" stroke-width="1.05"/>
<line x1="496.15" y1="306.90" x2="496.15" y2="324.24" stroke="#111111" stroke-width="1.05"/>
<line x1="532.25" y1="292.02" x2="532.25" y2="306.47" stroke="#111111" stroke-width="1.05"/>
<line x1="568.35" y1="287.97" x2="568.35" y2="302.42" stroke="#111111" stroke-width="1.05"/>
<path d="M423.95,416.00 L460.05,343.61 L496.15,315.57 L532.25,299.24 L568.35,295.20" fill="none" stroke="#111111" stroke-width="1.3" stroke-linejoin="round"/>
<circle cx="460.05" cy="343.61" r="3.1" fill="#111111"/>
<circle cx="496.15" cy="315.57" r="3.1" fill="#111111"/>
<circle cx="532.25" cy="299.24" r="3.1" fill="#111111"/>
<circle cx="568.35" cy="295.20" r="3.1" fill="#111111"/>
<line x1="129.55" y1="581.40" x2="129.55" y2="589.02" stroke="#5ab4e6" stroke-width="1.05"/>
<line x1="165.65" y1="541.20" x2="165.65" y2="567.87" stroke="#5ab4e6" stroke-width="1.05"/>
<line x1="201.75" y1="502.15" x2="201.75" y2="546.73" stroke="#5ab4e6" stroke-width="1.05"/>
<line x1="237.85" y1="475.10" x2="237.85" y2="534.15" stroke="#5ab4e6" stroke-width="1.05"/>
<path d="M93.45,601.40 L129.55,585.21 L165.65,554.54 L201.75,524.44 L237.85,504.63" fill="none" stroke="#5ab4e6" stroke-width="1.3" stroke-linejoin="round"/>
<circle cx="93.45" cy="601.40" r="3.1" fill="#5ab4e6"/>
<circle cx="129.55" cy="585.21" r="3.1" fill="#5ab4e6"/>
<circle cx="165.65" cy="554.54" r="3.1" fill="#5ab4e6"/>
<circle cx="201.75" cy="524.44" r="3.1" fill="#5ab4e6"/>
<circle cx="237.85" cy="504.63" r="3.1" fill="#5ab4e6"/>
<line x1="129.55" y1="558.92" x2="129.55" y2="607.69" stroke="#17a074" stroke-width="1.05"/>
<line x1="165.65" y1="555.68" x2="165.65" y2="607.88" stroke="#17a074" stroke-width="1.05"/>
<line x1="201.75" y1="541.39" x2="201.75" y2="613.78" stroke="#17a074" stroke-width="1.05"/>
<line x1="237.85" y1="542.35" x2="237.85" y2="610.92" stroke="#17a074" stroke-width="1.05"/>
<path d="M93.45,601.40 L129.55,583.30 L165.65,581.78 L201.75,577.59 L237.85,576.63" fill="none" stroke="#17a074" stroke-width="1.3" stroke-linejoin="round"/>
<circle cx="93.45" cy="601.40" r="3.1" fill="#17a074"/>
<circle cx="129.55" cy="583.30" r="3.1" fill="#17a074"/>
<circle cx="165.65" cy="581.78" r="3.1" fill="#17a074"/>
<circle cx="201.75" cy="577.59" r="3.1" fill="#17a074"/>
<circle cx="237.85" cy="576.63" r="3.1" fill="#17a074"/>
<line x1="129.55" y1="582.92" x2="129.55" y2="594.35" stroke="#111111" stroke-width="1.05"/>
<line x1="165.65" y1="559.11" x2="165.65" y2="568.63" stroke="#111111" stroke-width="1.05"/>
<line x1="201.75" y1="536.15" x2="201.75" y2="547.58" stroke="#111111" stroke-width="1.05"/>
<line x1="237.85" y1="517.20" x2="237.85" y2="530.53" stroke="#111111" stroke-width="1.05"/>
<path d="M93.45,601.40 L129.55,588.64 L165.65,563.87 L201.75,541.87 L237.85,523.87" fill="none" stroke="#111111" stroke-width="1.3" stroke-linejoin="round"/>
<circle cx="129.55" cy="588.64" r="3.1" fill="#111111"/>
<circle cx="165.65" cy="563.87" r="3.1" fill="#111111"/>
<circle cx="201.75" cy="541.87" r="3.1" fill="#111111"/>
<circle cx="237.85" cy="523.87" r="3.1" fill="#111111"/>
<line x1="295.05" y1="567.11" x2="295.05" y2="574.73" stroke="#9a9a9a" stroke-width="1.05"/>
<line x1="331.15" y1="542.35" x2="331.15" y2="549.96" stroke="#9a9a9a" stroke-width="1.05"/>
<line x1="367.25" y1="527.30" x2="367.25" y2="534.92" stroke="#9a9a9a" stroke-width="1.05"/>
<line x1="403.35" y1="506.15" x2="403.35" y2="513.77" stroke="#9a9a9a" stroke-width="1.05"/>
<path d="M258.95,601.40 L295.05,570.92 L331.15,546.15 L367.25,531.11 L403.35,509.96" fill="none" stroke="#9a9a9a" stroke-width="1.3" stroke-linejoin="round"/>
<circle cx="258.95" cy="601.40" r="3.1" fill="#9a9a9a"/>
<circle cx="295.05" cy="570.92" r="3.1" fill="#9a9a9a"/>
<circle cx="331.15" cy="546.15" r="3.1" fill="#9a9a9a"/>
<circle cx="367.25" cy="531.11" r="3.1" fill="#9a9a9a"/>
<circle cx="403.35" cy="509.96" r="3.1" fill="#9a9a9a"/>
<line x1="295.05" y1="576.06" x2="295.05" y2="583.68" stroke="#e6a12e" stroke-width="1.05"/>
<line x1="331.15" y1="535.49" x2="331.15" y2="543.11" stroke="#e6a12e" stroke-width="1.05"/>
<line x1="367.25" y1="504.82" x2="367.25" y2="539.11" stroke="#e6a12e" stroke-width="1.05"/>
<line x1="403.35" y1="501.01" x2="403.35" y2="508.63" stroke="#e6a12e" stroke-width="1.05"/>
<path d="M258.95,601.40 L295.05,579.87 L331.15,539.30 L367.25,521.96 L403.35,504.82" fill="none" stroke="#e6a12e" stroke-width="1.3" stroke-linejoin="round"/>
<circle cx="258.95" cy="601.40" r="3.1" fill="#e6a12e"/>
<circle cx="295.05" cy="579.87" r="3.1" fill="#e6a12e"/>
<circle cx="331.15" cy="539.30" r="3.1" fill="#e6a12e"/>
<circle cx="367.25" cy="521.96" r="3.1" fill="#e6a12e"/>
<circle cx="403.35" cy="504.82" r="3.1" fill="#e6a12e"/>
<line x1="295.05" y1="584.45" x2="295.05" y2="592.07" stroke="#eee04a" stroke-width="1.05"/>
<line x1="331.15" y1="540.82" x2="331.15" y2="548.44" stroke="#eee04a" stroke-width="1.05"/>
<line x1="367.25" y1="519.49" x2="367.25" y2="527.10" stroke="#eee04a" stroke-width="1.05"/>
<line x1="403.35" y1="483.86" x2="403.35" y2="510.53" stroke="#eee04a" stroke-width="1.05"/>
<path d="M258.95,601.40 L295.05,588.26 L331.15,544.63 L367.25,523.29 L403.35,497.20" fill="none" stroke="#eee04a" stroke-width="1.3" stroke-linejoin="round"/>
<circle cx="258.95" cy="601.40" r="3.1" fill="#eee04a"/>
<circle cx="295.05" cy="588.26" r="3.1" fill="#eee04a"/>
<circle cx="331.15" cy="544.63" r="3.1" fill="#eee04a"/>
<circle cx="367.25" cy="523.29" r="3.1" fill="#eee04a"/>
<circle cx="403.35" cy="497.20" r="3.1" fill="#eee04a"/>
<line x1="295.05" y1="559.87" x2="295.05" y2="567.49" stroke="#1a70b3" stroke-width="1.05"/>
<line x1="331.15" y1="544.82" x2="331.15" y2="552.44" stroke="#1a70b3" stroke-width="1.05"/>
<line x1="367.25" y1="521.77" x2="367.25" y2="529.39" stroke="#1a70b3" stroke-width="1.05"/>
<line x1="403.35" y1="495.67" x2="403.35" y2="503.29" stroke="#1a70b3" stroke-width="1.05"/>
<path d="M258.95,601.40 L295.05,563.68 L331.15,548.63 L367.25,525.58 L403.35,499.48" fill="none" stroke="#1a70b3" stroke-width="1.3" stroke-linejoin="round"/>
<circle cx="258.95" cy="601.40" r="3.1" fill="#1a70b3"/>
<circle cx="295.05" cy="563.68" r="3.1" fill="#1a70b3"/>
<circle cx="331.15" cy="548.63" r="3.1" fill="#1a70b3"/>
<circle cx="367.25" cy="525.58" r="3.1" fill="#1a70b3"/>
<circle cx="403.35" cy="499.48" r="3.1" fill="#1a70b3"/>
<line x1="331.15" y1="557.20" x2="331.15" y2="570.54" stroke="#111111" stroke-width="1.05"/>
<line x1="367.25" y1="536.15" x2="367.25" y2="547.58" stroke="#111111" stroke-width="1.05"/>
<line x1="403.35" y1="512.44" x2="403.35" y2="535.30" stroke="#111111" stroke-width="1.05"/>
<path d="M258.95,601.40 L295.05,588.64 L331.15,563.87 L367.25,541.87 L403.35,523.87" fill="none" stroke="#111111" stroke-width="1.3" stroke-linejoin="round"/>
<circle cx="295.05" cy="588.64" r="3.1" fill="#111111"/>
<circle cx="331.15" cy="563.87" r="3.1" fill="#111111"/>
<circle cx="367.25" cy="541.87" r="3.1" fill="#111111"/>
<circle cx="403.35" cy="523.87" r="3.1" fill="#111111"/>
<circle cx="295.05" cy="588.26" r="3.1" fill="#f0e87a"/>
<line x1="295.05" y1="558.16" x2="295.05" y2="606.73" stroke="#111111" stroke-width="1.05"/>
<line x1="460.65" y1="581.78" x2="460.65" y2="589.40" stroke="#d6622a" stroke-width="1.05"/>
<line x1="496.75" y1="568.63" x2="496.75" y2="576.25" stroke="#d6622a" stroke-width="1.05"/>
<line x1="532.85" y1="538.15" x2="532.85" y2="553.39" stroke="#d6622a" stroke-width="1.05"/>
<line x1="568.95" y1="526.34" x2="568.95" y2="539.68" stroke="#d6622a" stroke-width="1.05"/>
<path d="M424.55,601.40 L460.65,585.59 L496.75,572.44 L532.85,545.77 L568.95,533.01" fill="none" stroke="#d6622a" stroke-width="1.3" stroke-linejoin="round"/>
<circle cx="424.55" cy="601.40" r="3.1" fill="#d6622a"/>
<circle cx="460.65" cy="585.59" r="3.1" fill="#d6622a"/>
<circle cx="496.75" cy="572.44" r="3.1" fill="#d6622a"/>
<circle cx="532.85" cy="545.77" r="3.1" fill="#d6622a"/>
<circle cx="568.95" cy="533.01" r="3.1" fill="#d6622a"/>
<line x1="460.65" y1="572.06" x2="460.65" y2="606.35" stroke="#d07fae" stroke-width="1.05"/>
<line x1="496.75" y1="566.35" x2="496.75" y2="573.97" stroke="#d07fae" stroke-width="1.05"/>
<line x1="532.85" y1="534.53" x2="532.85" y2="542.15" stroke="#d07fae" stroke-width="1.05"/>
<line x1="568.95" y1="526.34" x2="568.95" y2="533.96" stroke="#d07fae" stroke-width="1.05"/>
<path d="M424.55,601.40 L460.65,589.21 L496.75,570.16 L532.85,538.34 L568.95,530.15" fill="none" stroke="#d07fae" stroke-width="1.3" stroke-linejoin="round"/>
<circle cx="424.55" cy="601.40" r="3.1" fill="#d07fae"/>
<circle cx="460.65" cy="589.21" r="3.1" fill="#d07fae"/>
<circle cx="496.75" cy="570.16" r="3.1" fill="#d07fae"/>
<circle cx="532.85" cy="538.34" r="3.1" fill="#d07fae"/>
<circle cx="568.95" cy="530.15" r="3.1" fill="#d07fae"/>
<line x1="460.65" y1="584.83" x2="460.65" y2="592.45" stroke="#111111" stroke-width="1.05"/>
<line x1="496.75" y1="558.16" x2="496.75" y2="569.59" stroke="#111111" stroke-width="1.05"/>
<line x1="532.85" y1="536.15" x2="532.85" y2="547.58" stroke="#111111" stroke-width="1.05"/>
<line x1="568.95" y1="512.44" x2="568.95" y2="535.30" stroke="#111111" stroke-width="1.05"/>
<path d="M424.55,601.40 L460.65,588.64 L496.75,563.87 L532.85,541.87 L568.95,523.87" fill="none" stroke="#111111" stroke-width="1.3" stroke-linejoin="round"/>
<circle cx="460.65" cy="588.64" r="3.1" fill="#111111"/>
<circle cx="496.75" cy="563.87" r="3.1" fill="#111111"/>
<circle cx="532.85" cy="541.87" r="3.1" fill="#111111"/>
<circle cx="568.95" cy="523.87" r="3.1" fill="#111111"/>
<text x="165.60" y="228.60" font-size="12.2" text-anchor="middle" fill="#474747" textLength="123.50" lengthAdjust="spacingAndGlyphs">RBD mutations known</text>
<text x="165.60" y="243.90" font-size="12.2" text-anchor="middle" fill="#474747" textLength="129.50" lengthAdjust="spacingAndGlyphs">to increase or decrease</text>
<text x="166.20" y="259.50" font-size="12.2" text-anchor="middle" fill="#474747" textLength="76.20" lengthAdjust="spacingAndGlyphs">ACE2 binding</text>
<text x="258.70" y="243.80" font-size="12.2" text-anchor="start" fill="#474747">S</text>
<text x="267.00" y="248.20" font-size="7.5" text-anchor="start" fill="#474747">1</text>
<text x="275.00" y="243.80" font-size="12.2" text-anchor="start" fill="#474747" textLength="127.50" lengthAdjust="spacingAndGlyphs">mutations that increase</text>
<text x="331.00" y="259.50" font-size="12.2" text-anchor="middle" fill="#474747" textLength="119.50" lengthAdjust="spacingAndGlyphs">ACE2 binding in DMS</text>
<text x="461.20" y="259.50" font-size="12.2" text-anchor="start" fill="#474747">S</text>
<text x="469.50" y="263.90" font-size="7.5" text-anchor="start" fill="#474747">2</text>
<text x="477.50" y="259.50" font-size="12.2" text-anchor="start" fill="#474747" textLength="54.60" lengthAdjust="spacingAndGlyphs">mutations</text>
<text x="331.60" y="669.00" font-size="13.0" text-anchor="middle" fill="#474747" textLength="160.80" lengthAdjust="spacingAndGlyphs">ACE2 concentration (nM)</text>
<g transform="translate(39.30 395.20) rotate(-90)">
<text x="-0.7" y="0" font-size="12.6" fill="#474747">S</text>
<text x="7.90" y="-3.50" font-size="7.8" font-style="italic" fill="#474747" textLength="26.00" lengthAdjust="spacingAndGlyphs">1xACE2</text>
<text x="37.00" y="0" font-size="12.6" fill="#474747" textLength="61.00" lengthAdjust="spacingAndGlyphs">occupancy</text>
</g>
<g transform="translate(40.70 614.80) rotate(-90)">
<text x="-0.7" y="0" font-size="13.4" fill="#474747">S</text>
<text x="7.80" y="-4.08" font-size="7.8" font-style="italic" fill="#474747" textLength="26.30" lengthAdjust="spacingAndGlyphs">2xACE2</text>
<text x="37.30" y="0" font-size="14.9" fill="#474747" textLength="72.40" lengthAdjust="spacingAndGlyphs">occupancy</text>
</g>
<text x="592.20" y="281.50" font-size="12.4" text-anchor="start" fill="#222" font-weight="bold" textLength="73.00" lengthAdjust="spacingAndGlyphs">BA.2 variant</text>
<line x1="595.00" y1="301.70" x2="617.60" y2="301.70" stroke="#111111" stroke-width="1.05"/>
<circle cx="606.60" cy="301.70" r="2.8" fill="#111111"/>
<text x="622.80" y="306.10" font-size="12.2" text-anchor="start" fill="#474747" textLength="27.77" lengthAdjust="spacingAndGlyphs">BA.2</text>
<line x1="595.00" y1="326.80" x2="617.60" y2="326.80" stroke="#9a9a9a" stroke-width="1.05"/>
<circle cx="606.60" cy="326.80" r="2.8" fill="#9a9a9a"/>
<text x="622.80" y="331.20" font-size="12.2" text-anchor="start" fill="#474747" textLength="40.59" lengthAdjust="spacingAndGlyphs">A222M</text>
<line x1="595.00" y1="351.90" x2="617.60" y2="351.90" stroke="#e6a12e" stroke-width="1.05"/>
<circle cx="606.60" cy="351.90" r="2.8" fill="#e6a12e"/>
<text x="622.80" y="356.30" font-size="12.2" text-anchor="start" fill="#474747" textLength="39.17" lengthAdjust="spacingAndGlyphs">N405A</text>
<line x1="595.00" y1="377.00" x2="617.60" y2="377.00" stroke="#5ab4e6" stroke-width="1.05"/>
<circle cx="606.60" cy="377.00" r="2.8" fill="#5ab4e6"/>
<text x="622.80" y="381.40" font-size="12.2" text-anchor="start" fill="#474747" textLength="40.59" lengthAdjust="spacingAndGlyphs">R493Q</text>
<line x1="595.00" y1="402.10" x2="617.60" y2="402.10" stroke="#17a074" stroke-width="1.05"/>
<circle cx="606.60" cy="402.10" r="2.8" fill="#17a074"/>
<text x="622.80" y="406.50" font-size="12.2" text-anchor="start" fill="#474747" textLength="39.17" lengthAdjust="spacingAndGlyphs">R498V</text>
<line x1="595.00" y1="427.20" x2="617.60" y2="427.20" stroke="#eee04a" stroke-width="1.05"/>
<circle cx="606.60" cy="427.20" r="2.8" fill="#eee04a"/>
<text x="622.80" y="431.60" font-size="12.2" text-anchor="start" fill="#474747" textLength="37.74" lengthAdjust="spacingAndGlyphs">A570F</text>
<line x1="595.00" y1="452.30" x2="617.60" y2="452.30" stroke="#1a70b3" stroke-width="1.05"/>
<circle cx="606.60" cy="452.30" r="2.8" fill="#1a70b3"/>
<text x="622.80" y="456.70" font-size="12.2" text-anchor="start" fill="#474747" textLength="39.17" lengthAdjust="spacingAndGlyphs">A570D</text>
<line x1="595.00" y1="477.40" x2="617.60" y2="477.40" stroke="#d6622a" stroke-width="1.05"/>
<circle cx="606.60" cy="477.40" r="2.8" fill="#d6622a"/>
<text x="622.80" y="481.80" font-size="12.2" text-anchor="start" fill="#474747" textLength="40.59" lengthAdjust="spacingAndGlyphs">A701M</text>
<line x1="595.00" y1="502.50" x2="617.60" y2="502.50" stroke="#d07fae" stroke-width="1.05"/>
<circle cx="606.60" cy="502.50" r="2.8" fill="#d07fae"/>
<text x="622.80" y="506.90" font-size="12.2" text-anchor="start" fill="#474747" textLength="39.87" lengthAdjust="spacingAndGlyphs">D950N</text>
<rect x="86.60" y="728.40" width="159.00" height="155.10" fill="none" stroke="#222222" stroke-width="1.5"/>
<line x1="93.85" y1="883.50" x2="93.85" y2="891.50" stroke="#222222" stroke-width="1.35"/>
<line x1="111.90" y1="883.50" x2="111.90" y2="888.50" stroke="#222222" stroke-width="1.35"/>
<line x1="129.95" y1="883.50" x2="129.95" y2="891.50" stroke="#222222" stroke-width="1.35"/>
<line x1="148.00" y1="883.50" x2="148.00" y2="888.50" stroke="#222222" stroke-width="1.35"/>
<line x1="166.05" y1="883.50" x2="166.05" y2="891.50" stroke="#222222" stroke-width="1.35"/>
<line x1="184.10" y1="883.50" x2="184.10" y2="888.50" stroke="#222222" stroke-width="1.35"/>
<line x1="202.15" y1="883.50" x2="202.15" y2="891.50" stroke="#222222" stroke-width="1.35"/>
<line x1="220.20" y1="883.50" x2="220.20" y2="888.50" stroke="#222222" stroke-width="1.35"/>
<line x1="238.25" y1="883.50" x2="238.25" y2="891.50" stroke="#222222" stroke-width="1.35"/>
<text x="97.40" y="895.60" font-size="13.6" text-anchor="end" fill="#474747" transform="rotate(-90 97.40 895.60)">0</text>
<text x="133.50" y="895.60" font-size="13.6" text-anchor="end" fill="#474747" transform="rotate(-90 133.50 895.60)">25</text>
<text x="169.60" y="895.60" font-size="13.6" text-anchor="end" fill="#474747" transform="rotate(-90 169.60 895.60)">50</text>
<text x="205.70" y="895.60" font-size="13.6" text-anchor="end" fill="#474747" transform="rotate(-90 205.70 895.60)">75</text>
<g transform="translate(241.80 895.60) rotate(-90)">
<text x="0" y="0" font-size="13.6" text-anchor="end" fill="#474747">00</text>
<path d="M-18.06,0 L-18.06,-9.74 M-18.06,-9.74 Q-18.88,-7.89 -20.10,-7.48" fill="none" stroke="#474747" stroke-width="1.1"/>
</g>
<line x1="78.80" y1="876.30" x2="86.60" y2="876.30" stroke="#222222" stroke-width="1.35"/>
<line x1="78.80" y1="838.60" x2="86.60" y2="838.60" stroke="#222222" stroke-width="1.35"/>
<line x1="78.80" y1="800.90" x2="86.60" y2="800.90" stroke="#222222" stroke-width="1.35"/>
<line x1="78.80" y1="763.20" x2="86.60" y2="763.20" stroke="#222222" stroke-width="1.35"/>
<line x1="81.10" y1="857.45" x2="86.60" y2="857.45" stroke="#222222" stroke-width="1.35"/>
<line x1="81.10" y1="819.75" x2="86.60" y2="819.75" stroke="#222222" stroke-width="1.35"/>
<line x1="81.10" y1="782.05" x2="86.60" y2="782.05" stroke="#222222" stroke-width="1.35"/>
<line x1="81.10" y1="744.35" x2="86.60" y2="744.35" stroke="#222222" stroke-width="1.35"/>
<text x="77.00" y="881.00" font-size="14.2" text-anchor="end" fill="#474747">0</text>
<text x="77.00" y="843.30" font-size="14.2" text-anchor="end" fill="#474747">0.25</text>
<text x="77.00" y="805.60" font-size="14.2" text-anchor="end" fill="#474747">0.50</text>
<text x="77.00" y="767.90" font-size="14.2" text-anchor="end" fill="#474747">0.75</text>
<rect x="85.50" y="927.30" width="159.00" height="154.20" fill="none" stroke="#222222" stroke-width="1.5"/>
<line x1="92.75" y1="1081.50" x2="92.75" y2="1089.50" stroke="#222222" stroke-width="1.35"/>
<line x1="110.80" y1="1081.50" x2="110.80" y2="1086.50" stroke="#222222" stroke-width="1.35"/>
<line x1="128.85" y1="1081.50" x2="128.85" y2="1089.50" stroke="#222222" stroke-width="1.35"/>
<line x1="146.90" y1="1081.50" x2="146.90" y2="1086.50" stroke="#222222" stroke-width="1.35"/>
<line x1="164.95" y1="1081.50" x2="164.95" y2="1089.50" stroke="#222222" stroke-width="1.35"/>
<line x1="183.00" y1="1081.50" x2="183.00" y2="1086.50" stroke="#222222" stroke-width="1.35"/>
<line x1="201.05" y1="1081.50" x2="201.05" y2="1089.50" stroke="#222222" stroke-width="1.35"/>
<line x1="219.10" y1="1081.50" x2="219.10" y2="1086.50" stroke="#222222" stroke-width="1.35"/>
<line x1="237.15" y1="1081.50" x2="237.15" y2="1089.50" stroke="#222222" stroke-width="1.35"/>
<text x="96.30" y="1093.60" font-size="13.6" text-anchor="end" fill="#474747" transform="rotate(-90 96.30 1093.60)">0</text>
<text x="132.40" y="1093.60" font-size="13.6" text-anchor="end" fill="#474747" transform="rotate(-90 132.40 1093.60)">25</text>
<text x="168.50" y="1093.60" font-size="13.6" text-anchor="end" fill="#474747" transform="rotate(-90 168.50 1093.60)">50</text>
<text x="204.60" y="1093.60" font-size="13.6" text-anchor="end" fill="#474747" transform="rotate(-90 204.60 1093.60)">75</text>
<g transform="translate(240.70 1093.60) rotate(-90)">
<text x="0" y="0" font-size="13.6" text-anchor="end" fill="#474747">00</text>
<path d="M-18.06,0 L-18.06,-9.74 M-18.06,-9.74 Q-18.88,-7.89 -20.10,-7.48" fill="none" stroke="#474747" stroke-width="1.1"/>
</g>
<line x1="77.70" y1="1060.20" x2="85.50" y2="1060.20" stroke="#222222" stroke-width="1.35"/>
<line x1="77.70" y1="1013.55" x2="85.50" y2="1013.55" stroke="#222222" stroke-width="1.35"/>
<line x1="77.70" y1="966.90" x2="85.50" y2="966.90" stroke="#222222" stroke-width="1.35"/>
<line x1="80.00" y1="1036.88" x2="85.50" y2="1036.88" stroke="#222222" stroke-width="1.35"/>
<line x1="80.00" y1="990.23" x2="85.50" y2="990.23" stroke="#222222" stroke-width="1.35"/>
<line x1="80.00" y1="943.58" x2="85.50" y2="943.58" stroke="#222222" stroke-width="1.35"/>
<text x="75.90" y="1064.90" font-size="14.2" text-anchor="end" fill="#474747">0</text>
<text x="75.90" y="1018.25" font-size="14.2" text-anchor="end" fill="#474747">0.25</text>
<text x="75.90" y="971.60" font-size="14.2" text-anchor="end" fill="#474747">0.50</text>
<rect x="252.10" y="728.40" width="159.00" height="155.10" fill="none" stroke="#222222" stroke-width="1.5"/>
<line x1="259.35" y1="883.50" x2="259.35" y2="891.50" stroke="#222222" stroke-width="1.35"/>
<line x1="277.40" y1="883.50" x2="277.40" y2="888.50" stroke="#222222" stroke-width="1.35"/>
<line x1="295.45" y1="883.50" x2="295.45" y2="891.50" stroke="#222222" stroke-width="1.35"/>
<line x1="313.50" y1="883.50" x2="313.50" y2="888.50" stroke="#222222" stroke-width="1.35"/>
<line x1="331.55" y1="883.50" x2="331.55" y2="891.50" stroke="#222222" stroke-width="1.35"/>
<line x1="349.60" y1="883.50" x2="349.60" y2="888.50" stroke="#222222" stroke-width="1.35"/>
<line x1="367.65" y1="883.50" x2="367.65" y2="891.50" stroke="#222222" stroke-width="1.35"/>
<line x1="385.70" y1="883.50" x2="385.70" y2="888.50" stroke="#222222" stroke-width="1.35"/>
<line x1="403.75" y1="883.50" x2="403.75" y2="891.50" stroke="#222222" stroke-width="1.35"/>
<text x="262.90" y="895.60" font-size="13.6" text-anchor="end" fill="#474747" transform="rotate(-90 262.90 895.60)">0</text>
<text x="299.00" y="895.60" font-size="13.6" text-anchor="end" fill="#474747" transform="rotate(-90 299.00 895.60)">25</text>
<text x="335.10" y="895.60" font-size="13.6" text-anchor="end" fill="#474747" transform="rotate(-90 335.10 895.60)">50</text>
<text x="371.20" y="895.60" font-size="13.6" text-anchor="end" fill="#474747" transform="rotate(-90 371.20 895.60)">75</text>
<g transform="translate(407.30 895.60) rotate(-90)">
<text x="0" y="0" font-size="13.6" text-anchor="end" fill="#474747">00</text>
<path d="M-18.06,0 L-18.06,-9.74 M-18.06,-9.74 Q-18.88,-7.89 -20.10,-7.48" fill="none" stroke="#474747" stroke-width="1.1"/>
</g>
<rect x="251.00" y="927.30" width="159.00" height="154.20" fill="none" stroke="#222222" stroke-width="1.5"/>
<line x1="258.25" y1="1081.50" x2="258.25" y2="1089.50" stroke="#222222" stroke-width="1.35"/>
<line x1="276.30" y1="1081.50" x2="276.30" y2="1086.50" stroke="#222222" stroke-width="1.35"/>
<line x1="294.35" y1="1081.50" x2="294.35" y2="1089.50" stroke="#222222" stroke-width="1.35"/>
<line x1="312.40" y1="1081.50" x2="312.40" y2="1086.50" stroke="#222222" stroke-width="1.35"/>
<line x1="330.45" y1="1081.50" x2="330.45" y2="1089.50" stroke="#222222" stroke-width="1.35"/>
<line x1="348.50" y1="1081.50" x2="348.50" y2="1086.50" stroke="#222222" stroke-width="1.35"/>
<line x1="366.55" y1="1081.50" x2="366.55" y2="1089.50" stroke="#222222" stroke-width="1.35"/>
<line x1="384.60" y1="1081.50" x2="384.60" y2="1086.50" stroke="#222222" stroke-width="1.35"/>
<line x1="402.65" y1="1081.50" x2="402.65" y2="1089.50" stroke="#222222" stroke-width="1.35"/>
<text x="261.80" y="1093.60" font-size="13.6" text-anchor="end" fill="#474747" transform="rotate(-90 261.80 1093.60)">0</text>
<text x="297.90" y="1093.60" font-size="13.6" text-anchor="end" fill="#474747" transform="rotate(-90 297.90 1093.60)">25</text>
<text x="334.00" y="1093.60" font-size="13.6" text-anchor="end" fill="#474747" transform="rotate(-90 334.00 1093.60)">50</text>
<text x="370.10" y="1093.60" font-size="13.6" text-anchor="end" fill="#474747" transform="rotate(-90 370.10 1093.60)">75</text>
<g transform="translate(406.20 1093.60) rotate(-90)">
<text x="0" y="0" font-size="13.6" text-anchor="end" fill="#474747">00</text>
<path d="M-18.06,0 L-18.06,-9.74 M-18.06,-9.74 Q-18.88,-7.89 -20.10,-7.48" fill="none" stroke="#474747" stroke-width="1.1"/>
</g>
<rect x="416.00" y="728.40" width="159.00" height="155.10" fill="none" stroke="#222222" stroke-width="1.5"/>
<line x1="423.25" y1="883.50" x2="423.25" y2="891.50" stroke="#222222" stroke-width="1.35"/>
<line x1="441.30" y1="883.50" x2="441.30" y2="888.50" stroke="#222222" stroke-width="1.35"/>
<line x1="459.35" y1="883.50" x2="459.35" y2="891.50" stroke="#222222" stroke-width="1.35"/>
<line x1="477.40" y1="883.50" x2="477.40" y2="888.50" stroke="#222222" stroke-width="1.35"/>
<line x1="495.45" y1="883.50" x2="495.45" y2="891.50" stroke="#222222" stroke-width="1.35"/>
<line x1="513.50" y1="883.50" x2="513.50" y2="888.50" stroke="#222222" stroke-width="1.35"/>
<line x1="531.55" y1="883.50" x2="531.55" y2="891.50" stroke="#222222" stroke-width="1.35"/>
<line x1="549.60" y1="883.50" x2="549.60" y2="888.50" stroke="#222222" stroke-width="1.35"/>
<line x1="567.65" y1="883.50" x2="567.65" y2="891.50" stroke="#222222" stroke-width="1.35"/>
<text x="426.80" y="895.60" font-size="13.6" text-anchor="end" fill="#474747" transform="rotate(-90 426.80 895.60)">0</text>
<text x="462.90" y="895.60" font-size="13.6" text-anchor="end" fill="#474747" transform="rotate(-90 462.90 895.60)">25</text>
<text x="499.00" y="895.60" font-size="13.6" text-anchor="end" fill="#474747" transform="rotate(-90 499.00 895.60)">50</text>
<text x="535.10" y="895.60" font-size="13.6" text-anchor="end" fill="#474747" transform="rotate(-90 535.10 895.60)">75</text>
<g transform="translate(571.20 895.60) rotate(-90)">
<text x="0" y="0" font-size="13.6" text-anchor="end" fill="#474747">00</text>
<path d="M-18.06,0 L-18.06,-9.74 M-18.06,-9.74 Q-18.88,-7.89 -20.10,-7.48" fill="none" stroke="#474747" stroke-width="1.1"/>
</g>
<rect x="416.00" y="927.30" width="159.00" height="154.20" fill="none" stroke="#222222" stroke-width="1.5"/>
<line x1="423.25" y1="1081.50" x2="423.25" y2="1089.50" stroke="#222222" stroke-width="1.35"/>
<line x1="441.30" y1="1081.50" x2="441.30" y2="1086.50" stroke="#222222" stroke-width="1.35"/>
<line x1="459.35" y1="1081.50" x2="459.35" y2="1089.50" stroke="#222222" stroke-width="1.35"/>
<line x1="477.40" y1="1081.50" x2="477.40" y2="1086.50" stroke="#222222" stroke-width="1.35"/>
<line x1="495.45" y1="1081.50" x2="495.45" y2="1089.50" stroke="#222222" stroke-width="1.35"/>
<line x1="513.50" y1="1081.50" x2="513.50" y2="1086.50" stroke="#222222" stroke-width="1.35"/>
<line x1="531.55" y1="1081.50" x2="531.55" y2="1089.50" stroke="#222222" stroke-width="1.35"/>
<line x1="549.60" y1="1081.50" x2="549.60" y2="1086.50" stroke="#222222" stroke-width="1.35"/>
<line x1="567.65" y1="1081.50" x2="567.65" y2="1089.50" stroke="#222222" stroke-width="1.35"/>
<text x="426.80" y="1093.60" font-size="13.6" text-anchor="end" fill="#474747" transform="rotate(-90 426.80 1093.60)">0</text>
<text x="462.90" y="1093.60" font-size="13.6" text-anchor="end" fill="#474747" transform="rotate(-90 462.90 1093.60)">25</text>
<text x="499.00" y="1093.60" font-size="13.6" text-anchor="end" fill="#474747" transform="rotate(-90 499.00 1093.60)">50</text>
<text x="535.10" y="1093.60" font-size="13.6" text-anchor="end" fill="#474747" transform="rotate(-90 535.10 1093.60)">75</text>
<g transform="translate(571.20 1093.60) rotate(-90)">
<text x="0" y="0" font-size="13.6" text-anchor="end" fill="#474747">00</text>
<path d="M-18.06,0 L-18.06,-9.74 M-18.06,-9.74 Q-18.88,-7.89 -20.10,-7.48" fill="none" stroke="#474747" stroke-width="1.1"/>
</g>
<line x1="129.95" y1="859.71" x2="129.95" y2="862.73" stroke="#17a074" stroke-width="1.05"/>
<line x1="166.05" y1="854.43" x2="166.05" y2="857.45" stroke="#17a074" stroke-width="1.05"/>
<line x1="202.15" y1="851.87" x2="202.15" y2="854.89" stroke="#17a074" stroke-width="1.05"/>
<line x1="238.25" y1="847.95" x2="238.25" y2="850.97" stroke="#17a074" stroke-width="1.05"/>
<path d="M93.85,876.30 L129.95,861.22 L166.05,855.94 L202.15,853.38 L238.25,849.46" fill="none" stroke="#17a074" stroke-width="1.3" stroke-linejoin="round"/>
<circle cx="93.85" cy="876.30" r="3.1" fill="#17a074"/>
<circle cx="129.95" cy="861.22" r="3.1" fill="#17a074"/>
<circle cx="166.05" cy="855.94" r="3.1" fill="#17a074"/>
<circle cx="202.15" cy="853.38" r="3.1" fill="#17a074"/>
<circle cx="238.25" cy="849.46" r="3.1" fill="#17a074"/>
<line x1="129.95" y1="810.55" x2="129.95" y2="813.57" stroke="#111111" stroke-width="1.05"/>
<line x1="166.05" y1="766.67" x2="166.05" y2="769.68" stroke="#111111" stroke-width="1.05"/>
<line x1="202.15" y1="755.81" x2="202.15" y2="761.84" stroke="#111111" stroke-width="1.05"/>
<line x1="238.25" y1="754.60" x2="238.25" y2="763.65" stroke="#111111" stroke-width="1.05"/>
<path d="M93.85,876.30 L129.95,812.06 L166.05,768.18 L202.15,758.83 L238.25,759.13" fill="none" stroke="#111111" stroke-width="1.3" stroke-linejoin="round"/>
<circle cx="129.95" cy="812.06" r="3.1" fill="#111111"/>
<circle cx="166.05" cy="768.18" r="3.1" fill="#111111"/>
<circle cx="202.15" cy="758.83" r="3.1" fill="#111111"/>
<circle cx="238.25" cy="759.13" r="3.1" fill="#111111"/>
<line x1="295.45" y1="805.57" x2="295.45" y2="811.61" stroke="#5ab4e6" stroke-width="1.05"/>
<line x1="331.55" y1="750.23" x2="331.55" y2="756.26" stroke="#5ab4e6" stroke-width="1.05"/>
<line x1="367.65" y1="739.52" x2="367.65" y2="745.56" stroke="#5ab4e6" stroke-width="1.05"/>
<line x1="403.75" y1="737.56" x2="403.75" y2="743.60" stroke="#5ab4e6" stroke-width="1.05"/>
<path d="M259.35,876.30 L295.45,808.59 L331.55,753.25 L367.65,742.54 L403.75,740.58" fill="none" stroke="#5ab4e6" stroke-width="1.3" stroke-linejoin="round"/>
<circle cx="259.35" cy="876.30" r="3.1" fill="#5ab4e6"/>
<circle cx="295.45" cy="808.59" r="3.1" fill="#5ab4e6"/>
<circle cx="331.55" cy="753.25" r="3.1" fill="#5ab4e6"/>
<circle cx="367.65" cy="742.54" r="3.1" fill="#5ab4e6"/>
<circle cx="403.75" cy="740.58" r="3.1" fill="#5ab4e6"/>
<line x1="295.45" y1="808.44" x2="295.45" y2="814.47" stroke="#1a70b3" stroke-width="1.05"/>
<line x1="331.55" y1="764.41" x2="331.55" y2="773.45" stroke="#1a70b3" stroke-width="1.05"/>
<line x1="367.65" y1="752.64" x2="367.65" y2="758.68" stroke="#1a70b3" stroke-width="1.05"/>
<line x1="403.75" y1="747.22" x2="403.75" y2="753.25" stroke="#1a70b3" stroke-width="1.05"/>
<path d="M259.35,876.30 L295.45,811.46 L331.55,768.93 L367.65,755.66 L403.75,750.23" fill="none" stroke="#1a70b3" stroke-width="1.3" stroke-linejoin="round"/>
<circle cx="259.35" cy="876.30" r="3.1" fill="#1a70b3"/>
<circle cx="295.45" cy="811.46" r="3.1" fill="#1a70b3"/>
<circle cx="331.55" cy="768.93" r="3.1" fill="#1a70b3"/>
<circle cx="367.65" cy="755.66" r="3.1" fill="#1a70b3"/>
<circle cx="403.75" cy="750.23" r="3.1" fill="#1a70b3"/>
<line x1="295.45" y1="785.37" x2="295.45" y2="794.42" stroke="#9a9a9a" stroke-width="1.05"/>
<line x1="331.55" y1="755.66" x2="331.55" y2="761.69" stroke="#9a9a9a" stroke-width="1.05"/>
<line x1="367.65" y1="746.91" x2="367.65" y2="755.96" stroke="#9a9a9a" stroke-width="1.05"/>
<line x1="403.75" y1="735.45" x2="403.75" y2="741.48" stroke="#9a9a9a" stroke-width="1.05"/>
<path d="M259.35,876.30 L295.45,789.89 L331.55,758.68 L367.65,751.44 L403.75,738.47" fill="none" stroke="#9a9a9a" stroke-width="1.3" stroke-linejoin="round"/>
<circle cx="259.35" cy="876.30" r="3.1" fill="#9a9a9a"/>
<circle cx="295.45" cy="789.89" r="3.1" fill="#9a9a9a"/>
<circle cx="331.55" cy="758.68" r="3.1" fill="#9a9a9a"/>
<circle cx="367.65" cy="751.44" r="3.1" fill="#9a9a9a"/>
<circle cx="403.75" cy="738.47" r="3.1" fill="#9a9a9a"/>
<line x1="295.45" y1="841.77" x2="295.45" y2="847.80" stroke="#d07fae" stroke-width="1.05"/>
<line x1="331.55" y1="824.27" x2="331.55" y2="836.34" stroke="#d07fae" stroke-width="1.05"/>
<line x1="367.65" y1="827.29" x2="367.65" y2="833.32" stroke="#d07fae" stroke-width="1.05"/>
<line x1="403.75" y1="810.85" x2="403.75" y2="825.93" stroke="#d07fae" stroke-width="1.05"/>
<path d="M259.35,876.30 L295.45,844.78 L331.55,830.31 L367.65,830.31 L403.75,818.39" fill="none" stroke="#d07fae" stroke-width="1.3" stroke-linejoin="round"/>
<circle cx="259.35" cy="876.30" r="3.1" fill="#d07fae"/>
<circle cx="295.45" cy="844.78" r="3.1" fill="#d07fae"/>
<circle cx="331.55" cy="830.31" r="3.1" fill="#d07fae"/>
<circle cx="367.65" cy="830.31" r="3.1" fill="#d07fae"/>
<circle cx="403.75" cy="818.39" r="3.1" fill="#d07fae"/>
<line x1="295.45" y1="803.31" x2="295.45" y2="809.34" stroke="#eee04a" stroke-width="1.05"/>
<line x1="331.55" y1="753.40" x2="331.55" y2="759.43" stroke="#eee04a" stroke-width="1.05"/>
<line x1="367.65" y1="739.52" x2="367.65" y2="745.56" stroke="#eee04a" stroke-width="1.05"/>
<line x1="403.75" y1="735.45" x2="403.75" y2="741.48" stroke="#eee04a" stroke-width="1.05"/>
<path d="M259.35,876.30 L295.45,806.33 L331.55,756.41 L367.65,742.54 L403.75,738.47" fill="none" stroke="#eee04a" stroke-width="1.3" stroke-linejoin="round"/>
<circle cx="259.35" cy="876.30" r="3.1" fill="#eee04a"/>
<circle cx="295.45" cy="806.33" r="3.1" fill="#eee04a"/>
<circle cx="331.55" cy="756.41" r="3.1" fill="#eee04a"/>
<circle cx="367.65" cy="742.54" r="3.1" fill="#eee04a"/>
<circle cx="403.75" cy="738.47" r="3.1" fill="#eee04a"/>
<line x1="295.45" y1="755.66" x2="295.45" y2="800.90" stroke="#e6a12e" stroke-width="1.05"/>
<line x1="331.55" y1="754.15" x2="331.55" y2="760.18" stroke="#e6a12e" stroke-width="1.05"/>
<line x1="367.65" y1="736.51" x2="367.65" y2="748.57" stroke="#e6a12e" stroke-width="1.05"/>
<line x1="403.75" y1="733.94" x2="403.75" y2="739.98" stroke="#e6a12e" stroke-width="1.05"/>
<path d="M259.35,876.30 L295.45,778.28 L331.55,757.17 L367.65,742.54 L403.75,736.96" fill="none" stroke="#e6a12e" stroke-width="1.3" stroke-linejoin="round"/>
<circle cx="259.35" cy="876.30" r="3.1" fill="#e6a12e"/>
<circle cx="295.45" cy="778.28" r="3.1" fill="#e6a12e"/>
<circle cx="331.55" cy="757.17" r="3.1" fill="#e6a12e"/>
<circle cx="367.65" cy="742.54" r="3.1" fill="#e6a12e"/>
<circle cx="403.75" cy="736.96" r="3.1" fill="#e6a12e"/>
<line x1="295.45" y1="824.73" x2="295.45" y2="830.76" stroke="#d6622a" stroke-width="1.05"/>
<line x1="331.55" y1="760.49" x2="331.55" y2="766.52" stroke="#d6622a" stroke-width="1.05"/>
<line x1="367.65" y1="752.64" x2="367.65" y2="758.68" stroke="#d6622a" stroke-width="1.05"/>
<line x1="403.75" y1="739.52" x2="403.75" y2="745.56" stroke="#d6622a" stroke-width="1.05"/>
<path d="M259.35,876.30 L295.45,827.74 L331.55,763.50 L367.65,755.66 L403.75,742.54" fill="none" stroke="#d6622a" stroke-width="1.3" stroke-linejoin="round"/>
<circle cx="259.35" cy="876.30" r="3.1" fill="#d6622a"/>
<circle cx="295.45" cy="827.74" r="3.1" fill="#d6622a"/>
<circle cx="331.55" cy="763.50" r="3.1" fill="#d6622a"/>
<circle cx="367.65" cy="755.66" r="3.1" fill="#d6622a"/>
<circle cx="403.75" cy="742.54" r="3.1" fill="#d6622a"/>
<line x1="295.45" y1="810.55" x2="295.45" y2="813.57" stroke="#111111" stroke-width="1.05"/>
<line x1="331.55" y1="766.67" x2="331.55" y2="769.68" stroke="#111111" stroke-width="1.05"/>
<line x1="367.65" y1="755.81" x2="367.65" y2="761.84" stroke="#111111" stroke-width="1.05"/>
<line x1="403.75" y1="754.60" x2="403.75" y2="763.65" stroke="#111111" stroke-width="1.05"/>
<path d="M259.35,876.30 L295.45,812.06 L331.55,768.18 L367.65,758.83 L403.75,759.13" fill="none" stroke="#111111" stroke-width="1.3" stroke-linejoin="round"/>
<circle cx="295.45" cy="812.06" r="3.1" fill="#111111"/>
<circle cx="331.55" cy="768.18" r="3.1" fill="#111111"/>
<circle cx="367.65" cy="758.83" r="3.1" fill="#111111"/>
<circle cx="403.75" cy="759.13" r="3.1" fill="#111111"/>
<line x1="459.35" y1="811.46" x2="459.35" y2="817.49" stroke="#a6bf45" stroke-width="1.05"/>
<line x1="495.45" y1="783.41" x2="495.45" y2="813.57" stroke="#a6bf45" stroke-width="1.05"/>
<line x1="531.55" y1="764.71" x2="531.55" y2="770.74" stroke="#a6bf45" stroke-width="1.05"/>
<line x1="567.65" y1="754.60" x2="567.65" y2="763.65" stroke="#a6bf45" stroke-width="1.05"/>
<path d="M423.25,876.30 L459.35,814.47 L495.45,798.49 L531.55,767.72 L567.65,759.13" fill="none" stroke="#a6bf45" stroke-width="1.3" stroke-linejoin="round"/>
<circle cx="423.25" cy="876.30" r="3.1" fill="#a6bf45"/>
<circle cx="459.35" cy="814.47" r="3.1" fill="#a6bf45"/>
<circle cx="495.45" cy="798.49" r="3.1" fill="#a6bf45"/>
<circle cx="531.55" cy="767.72" r="3.1" fill="#a6bf45"/>
<circle cx="567.65" cy="759.13" r="3.1" fill="#a6bf45"/>
<line x1="459.35" y1="828.19" x2="459.35" y2="834.23" stroke="#7c2a8e" stroke-width="1.05"/>
<line x1="495.45" y1="787.63" x2="495.45" y2="793.66" stroke="#7c2a8e" stroke-width="1.05"/>
<line x1="531.55" y1="792.76" x2="531.55" y2="798.79" stroke="#7c2a8e" stroke-width="1.05"/>
<line x1="567.65" y1="774.51" x2="567.65" y2="786.57" stroke="#7c2a8e" stroke-width="1.05"/>
<path d="M423.25,876.30 L459.35,831.21 L495.45,790.65 L531.55,795.77 L567.65,780.54" fill="none" stroke="#7c2a8e" stroke-width="1.3" stroke-linejoin="round"/>
<circle cx="423.25" cy="876.30" r="3.1" fill="#7c2a8e"/>
<circle cx="459.35" cy="831.21" r="3.1" fill="#7c2a8e"/>
<circle cx="495.45" cy="790.65" r="3.1" fill="#7c2a8e"/>
<circle cx="531.55" cy="795.77" r="3.1" fill="#7c2a8e"/>
<circle cx="567.65" cy="780.54" r="3.1" fill="#7c2a8e"/>
<line x1="459.35" y1="812.51" x2="459.35" y2="818.54" stroke="#5bc6d9" stroke-width="1.05"/>
<line x1="495.45" y1="769.38" x2="495.45" y2="775.41" stroke="#5bc6d9" stroke-width="1.05"/>
<line x1="531.55" y1="750.68" x2="531.55" y2="762.75" stroke="#5bc6d9" stroke-width="1.05"/>
<line x1="567.65" y1="749.02" x2="567.65" y2="755.06" stroke="#5bc6d9" stroke-width="1.05"/>
<path d="M423.25,876.30 L459.35,815.53 L495.45,772.40 L531.55,756.72 L567.65,752.04" fill="none" stroke="#5bc6d9" stroke-width="1.3" stroke-linejoin="round"/>
<circle cx="423.25" cy="876.30" r="3.1" fill="#5bc6d9"/>
<circle cx="459.35" cy="815.53" r="3.1" fill="#5bc6d9"/>
<circle cx="495.45" cy="772.40" r="3.1" fill="#5bc6d9"/>
<circle cx="531.55" cy="756.72" r="3.1" fill="#5bc6d9"/>
<circle cx="567.65" cy="752.04" r="3.1" fill="#5bc6d9"/>
<line x1="459.35" y1="818.39" x2="459.35" y2="824.42" stroke="#e8532e" stroke-width="1.05"/>
<line x1="495.45" y1="776.32" x2="495.45" y2="782.35" stroke="#e8532e" stroke-width="1.05"/>
<line x1="531.55" y1="754.15" x2="531.55" y2="781.30" stroke="#e8532e" stroke-width="1.05"/>
<line x1="567.65" y1="750.23" x2="567.65" y2="756.26" stroke="#e8532e" stroke-width="1.05"/>
<path d="M423.25,876.30 L459.35,821.41 L495.45,779.34 L531.55,767.72 L567.65,753.25" fill="none" stroke="#e8532e" stroke-width="1.3" stroke-linejoin="round"/>
<circle cx="423.25" cy="876.30" r="3.1" fill="#e8532e"/>
<circle cx="459.35" cy="821.41" r="3.1" fill="#e8532e"/>
<circle cx="495.45" cy="779.34" r="3.1" fill="#e8532e"/>
<circle cx="531.55" cy="767.72" r="3.1" fill="#e8532e"/>
<circle cx="567.65" cy="753.25" r="3.1" fill="#e8532e"/>
<line x1="459.35" y1="810.55" x2="459.35" y2="813.57" stroke="#111111" stroke-width="1.05"/>
<line x1="495.45" y1="766.67" x2="495.45" y2="769.68" stroke="#111111" stroke-width="1.05"/>
<line x1="531.55" y1="755.81" x2="531.55" y2="761.84" stroke="#111111" stroke-width="1.05"/>
<line x1="567.65" y1="754.60" x2="567.65" y2="763.65" stroke="#111111" stroke-width="1.05"/>
<path d="M423.25,876.30 L459.35,812.06 L495.45,768.18 L531.55,758.83 L567.65,759.13" fill="none" stroke="#111111" stroke-width="1.3" stroke-linejoin="round"/>
<circle cx="459.35" cy="812.06" r="3.1" fill="#111111"/>
<circle cx="495.45" cy="768.18" r="3.1" fill="#111111"/>
<circle cx="531.55" cy="758.83" r="3.1" fill="#111111"/>
<circle cx="567.65" cy="759.13" r="3.1" fill="#111111"/>
<path d="M92.75,1060.20 L128.85,1060.20 L164.95,1060.20 L201.05,1060.20 L237.15,1060.20" fill="none" stroke="#17a074" stroke-width="1.3" stroke-linejoin="round"/>
<circle cx="92.75" cy="1060.20" r="3.1" fill="#17a074"/>
<circle cx="128.85" cy="1060.20" r="3.1" fill="#17a074"/>
<circle cx="164.95" cy="1060.20" r="3.1" fill="#17a074"/>
<circle cx="201.05" cy="1060.20" r="3.1" fill="#17a074"/>
<circle cx="237.15" cy="1060.20" r="3.1" fill="#17a074"/>
<line x1="128.85" y1="1036.13" x2="128.85" y2="1049.19" stroke="#111111" stroke-width="1.05"/>
<line x1="164.95" y1="1001.61" x2="164.95" y2="1009.07" stroke="#111111" stroke-width="1.05"/>
<line x1="201.05" y1="977.35" x2="201.05" y2="994.89" stroke="#111111" stroke-width="1.05"/>
<line x1="237.15" y1="962.05" x2="237.15" y2="982.95" stroke="#111111" stroke-width="1.05"/>
<path d="M92.75,1060.20 L128.85,1042.66 L164.95,1005.34 L201.05,986.12 L237.15,972.50" fill="none" stroke="#111111" stroke-width="1.3" stroke-linejoin="round"/>
<circle cx="128.85" cy="1042.66" r="3.1" fill="#111111"/>
<circle cx="164.95" cy="1005.34" r="3.1" fill="#111111"/>
<circle cx="201.05" cy="986.12" r="3.1" fill="#111111"/>
<circle cx="237.15" cy="972.50" r="3.1" fill="#111111"/>
<line x1="294.35" y1="1030.72" x2="294.35" y2="1038.18" stroke="#5ab4e6" stroke-width="1.05"/>
<line x1="330.45" y1="978.66" x2="330.45" y2="989.85" stroke="#5ab4e6" stroke-width="1.05"/>
<line x1="366.55" y1="943.76" x2="366.55" y2="966.15" stroke="#5ab4e6" stroke-width="1.05"/>
<line x1="402.65" y1="956.08" x2="402.65" y2="967.27" stroke="#5ab4e6" stroke-width="1.05"/>
<path d="M258.25,1060.20 L294.35,1034.45 L330.45,984.25 L366.55,954.96 L402.65,961.68" fill="none" stroke="#5ab4e6" stroke-width="1.3" stroke-linejoin="round"/>
<circle cx="258.25" cy="1060.20" r="3.1" fill="#5ab4e6"/>
<circle cx="294.35" cy="1034.45" r="3.1" fill="#5ab4e6"/>
<circle cx="330.45" cy="984.25" r="3.1" fill="#5ab4e6"/>
<circle cx="366.55" cy="954.96" r="3.1" fill="#5ab4e6"/>
<circle cx="402.65" cy="961.68" r="3.1" fill="#5ab4e6"/>
<line x1="294.35" y1="1046.58" x2="294.35" y2="1054.04" stroke="#1a70b3" stroke-width="1.05"/>
<line x1="330.45" y1="1010.19" x2="330.45" y2="1021.39" stroke="#1a70b3" stroke-width="1.05"/>
<line x1="366.55" y1="985.93" x2="366.55" y2="993.40" stroke="#1a70b3" stroke-width="1.05"/>
<line x1="402.65" y1="935.55" x2="402.65" y2="987.80" stroke="#1a70b3" stroke-width="1.05"/>
<path d="M258.25,1060.20 L294.35,1050.31 L330.45,1015.79 L366.55,989.67 L402.65,961.68" fill="none" stroke="#1a70b3" stroke-width="1.3" stroke-linejoin="round"/>
<circle cx="258.25" cy="1060.20" r="3.1" fill="#1a70b3"/>
<circle cx="294.35" cy="1050.31" r="3.1" fill="#1a70b3"/>
<circle cx="330.45" cy="1015.79" r="3.1" fill="#1a70b3"/>
<circle cx="366.55" cy="989.67" r="3.1" fill="#1a70b3"/>
<circle cx="402.65" cy="961.68" r="3.1" fill="#1a70b3"/>
<line x1="294.35" y1="1035.94" x2="294.35" y2="1043.41" stroke="#9a9a9a" stroke-width="1.05"/>
<line x1="330.45" y1="998.62" x2="330.45" y2="1006.09" stroke="#9a9a9a" stroke-width="1.05"/>
<line x1="366.55" y1="971.94" x2="366.55" y2="979.40" stroke="#9a9a9a" stroke-width="1.05"/>
<line x1="402.65" y1="956.64" x2="402.65" y2="964.10" stroke="#9a9a9a" stroke-width="1.05"/>
<path d="M258.25,1060.20 L294.35,1039.67 L330.45,1002.35 L366.55,975.67 L402.65,960.37" fill="none" stroke="#9a9a9a" stroke-width="1.3" stroke-linejoin="round"/>
<circle cx="258.25" cy="1060.20" r="3.1" fill="#9a9a9a"/>
<circle cx="294.35" cy="1039.67" r="3.1" fill="#9a9a9a"/>
<circle cx="330.45" cy="1002.35" r="3.1" fill="#9a9a9a"/>
<circle cx="366.55" cy="975.67" r="3.1" fill="#9a9a9a"/>
<circle cx="402.65" cy="960.37" r="3.1" fill="#9a9a9a"/>
<line x1="366.55" y1="1033.14" x2="366.55" y2="1040.61" stroke="#d07fae" stroke-width="1.05"/>
<line x1="402.65" y1="1022.32" x2="402.65" y2="1037.25" stroke="#d07fae" stroke-width="1.05"/>
<path d="M258.25,1060.20 L294.35,1060.20 L330.45,1060.20 L366.55,1036.88 L402.65,1029.78" fill="none" stroke="#d07fae" stroke-width="1.3" stroke-linejoin="round"/>
<circle cx="258.25" cy="1060.20" r="3.1" fill="#d07fae"/>
<circle cx="294.35" cy="1060.20" r="3.1" fill="#d07fae"/>
<circle cx="330.45" cy="1060.20" r="3.1" fill="#d07fae"/>
<circle cx="366.55" cy="1036.88" r="3.1" fill="#d07fae"/>
<circle cx="402.65" cy="1029.78" r="3.1" fill="#d07fae"/>
<line x1="294.35" y1="1030.34" x2="294.35" y2="1037.81" stroke="#eee04a" stroke-width="1.05"/>
<line x1="330.45" y1="995.82" x2="330.45" y2="1003.29" stroke="#eee04a" stroke-width="1.05"/>
<line x1="366.55" y1="966.90" x2="366.55" y2="974.36" stroke="#eee04a" stroke-width="1.05"/>
<line x1="402.65" y1="949.55" x2="402.65" y2="957.01" stroke="#eee04a" stroke-width="1.05"/>
<path d="M258.25,1060.20 L294.35,1034.08 L330.45,999.56 L366.55,970.63 L402.65,953.28" fill="none" stroke="#eee04a" stroke-width="1.3" stroke-linejoin="round"/>
<circle cx="258.25" cy="1060.20" r="3.1" fill="#eee04a"/>
<circle cx="294.35" cy="1034.08" r="3.1" fill="#eee04a"/>
<circle cx="330.45" cy="999.56" r="3.1" fill="#eee04a"/>
<circle cx="366.55" cy="970.63" r="3.1" fill="#eee04a"/>
<circle cx="402.65" cy="953.28" r="3.1" fill="#eee04a"/>
<line x1="294.35" y1="1019.52" x2="294.35" y2="1034.45" stroke="#e6a12e" stroke-width="1.05"/>
<line x1="330.45" y1="992.28" x2="330.45" y2="1003.47" stroke="#e6a12e" stroke-width="1.05"/>
<line x1="366.55" y1="965.22" x2="366.55" y2="972.68" stroke="#e6a12e" stroke-width="1.05"/>
<line x1="402.65" y1="946.00" x2="402.65" y2="953.46" stroke="#e6a12e" stroke-width="1.05"/>
<path d="M258.25,1060.20 L294.35,1026.99 L330.45,997.88 L366.55,968.95 L402.65,949.73" fill="none" stroke="#e6a12e" stroke-width="1.3" stroke-linejoin="round"/>
<circle cx="258.25" cy="1060.20" r="3.1" fill="#e6a12e"/>
<circle cx="294.35" cy="1026.99" r="3.1" fill="#e6a12e"/>
<circle cx="330.45" cy="997.88" r="3.1" fill="#e6a12e"/>
<circle cx="366.55" cy="968.95" r="3.1" fill="#e6a12e"/>
<circle cx="402.65" cy="949.73" r="3.1" fill="#e6a12e"/>
<line x1="294.35" y1="1040.61" x2="294.35" y2="1048.07" stroke="#d6622a" stroke-width="1.05"/>
<line x1="330.45" y1="1003.85" x2="330.45" y2="1011.31" stroke="#d6622a" stroke-width="1.05"/>
<line x1="366.55" y1="977.35" x2="366.55" y2="1074.38" stroke="#d6622a" stroke-width="1.05"/>
<line x1="402.65" y1="957.94" x2="402.65" y2="965.41" stroke="#d6622a" stroke-width="1.05"/>
<path d="M258.25,1060.20 L294.35,1044.34 L330.45,1007.58 L366.55,1025.87 L402.65,961.68" fill="none" stroke="#d6622a" stroke-width="1.3" stroke-linejoin="round"/>
<circle cx="258.25" cy="1060.20" r="3.1" fill="#d6622a"/>
<circle cx="294.35" cy="1044.34" r="3.1" fill="#d6622a"/>
<circle cx="330.45" cy="1007.58" r="3.1" fill="#d6622a"/>
<circle cx="366.55" cy="1025.87" r="3.1" fill="#d6622a"/>
<circle cx="402.65" cy="961.68" r="3.1" fill="#d6622a"/>
<line x1="294.35" y1="1036.13" x2="294.35" y2="1049.19" stroke="#111111" stroke-width="1.05"/>
<line x1="330.45" y1="1001.61" x2="330.45" y2="1009.07" stroke="#111111" stroke-width="1.05"/>
<line x1="366.55" y1="977.35" x2="366.55" y2="994.89" stroke="#111111" stroke-width="1.05"/>
<line x1="402.65" y1="962.05" x2="402.65" y2="982.95" stroke="#111111" stroke-width="1.05"/>
<path d="M258.25,1060.20 L294.35,1042.66 L330.45,1005.34 L366.55,986.12 L402.65,972.50" fill="none" stroke="#111111" stroke-width="1.3" stroke-linejoin="round"/>
<circle cx="294.35" cy="1042.66" r="3.1" fill="#111111"/>
<circle cx="330.45" cy="1005.34" r="3.1" fill="#111111"/>
<circle cx="366.55" cy="986.12" r="3.1" fill="#111111"/>
<circle cx="402.65" cy="972.50" r="3.1" fill="#111111"/>
<line x1="495.45" y1="1022.88" x2="495.45" y2="1045.27" stroke="#a6bf45" stroke-width="1.05"/>
<line x1="531.55" y1="1006.09" x2="531.55" y2="1013.55" stroke="#a6bf45" stroke-width="1.05"/>
<line x1="567.65" y1="974.18" x2="567.65" y2="992.84" stroke="#a6bf45" stroke-width="1.05"/>
<path d="M423.25,1060.20 L459.35,1060.20 L495.45,1034.08 L531.55,1009.82 L567.65,983.51" fill="none" stroke="#a6bf45" stroke-width="1.3" stroke-linejoin="round"/>
<circle cx="423.25" cy="1060.20" r="3.1" fill="#a6bf45"/>
<circle cx="459.35" cy="1060.20" r="3.1" fill="#a6bf45"/>
<circle cx="495.45" cy="1034.08" r="3.1" fill="#a6bf45"/>
<circle cx="531.55" cy="1009.82" r="3.1" fill="#a6bf45"/>
<circle cx="567.65" cy="983.51" r="3.1" fill="#a6bf45"/>
<line x1="531.55" y1="1028.85" x2="531.55" y2="1036.32" stroke="#7c2a8e" stroke-width="1.05"/>
<line x1="567.65" y1="1000.49" x2="567.65" y2="1022.88" stroke="#7c2a8e" stroke-width="1.05"/>
<path d="M423.25,1060.20 L459.35,1060.20 L495.45,1060.20 L531.55,1032.58 L567.65,1011.68" fill="none" stroke="#7c2a8e" stroke-width="1.3" stroke-linejoin="round"/>
<circle cx="423.25" cy="1060.20" r="3.1" fill="#7c2a8e"/>
<circle cx="459.35" cy="1060.20" r="3.1" fill="#7c2a8e"/>
<circle cx="495.45" cy="1060.20" r="3.1" fill="#7c2a8e"/>
<circle cx="531.55" cy="1032.58" r="3.1" fill="#7c2a8e"/>
<circle cx="567.65" cy="1011.68" r="3.1" fill="#7c2a8e"/>
<line x1="459.35" y1="1038.93" x2="459.35" y2="1046.39" stroke="#5bc6d9" stroke-width="1.05"/>
<line x1="495.45" y1="1010.94" x2="495.45" y2="1018.40" stroke="#5bc6d9" stroke-width="1.05"/>
<line x1="531.55" y1="985.93" x2="531.55" y2="993.40" stroke="#5bc6d9" stroke-width="1.05"/>
<line x1="567.65" y1="953.09" x2="567.65" y2="979.22" stroke="#5bc6d9" stroke-width="1.05"/>
<path d="M423.25,1060.20 L459.35,1042.66 L495.45,1014.67 L531.55,989.67 L567.65,966.15" fill="none" stroke="#5bc6d9" stroke-width="1.3" stroke-linejoin="round"/>
<circle cx="423.25" cy="1060.20" r="3.1" fill="#5bc6d9"/>
<circle cx="459.35" cy="1042.66" r="3.1" fill="#5bc6d9"/>
<circle cx="495.45" cy="1014.67" r="3.1" fill="#5bc6d9"/>
<circle cx="531.55" cy="989.67" r="3.1" fill="#5bc6d9"/>
<circle cx="567.65" cy="966.15" r="3.1" fill="#5bc6d9"/>
<line x1="459.35" y1="1036.50" x2="459.35" y2="1043.97" stroke="#e8532e" stroke-width="1.05"/>
<line x1="495.45" y1="1016.35" x2="495.45" y2="1023.81" stroke="#e8532e" stroke-width="1.05"/>
<line x1="531.55" y1="1000.49" x2="531.55" y2="1007.95" stroke="#e8532e" stroke-width="1.05"/>
<line x1="567.65" y1="968.39" x2="567.65" y2="975.86" stroke="#e8532e" stroke-width="1.05"/>
<path d="M423.25,1060.20 L459.35,1040.23 L495.45,1020.08 L531.55,1004.22 L567.65,972.12" fill="none" stroke="#e8532e" stroke-width="1.3" stroke-linejoin="round"/>
<circle cx="423.25" cy="1060.20" r="3.1" fill="#e8532e"/>
<circle cx="459.35" cy="1040.23" r="3.1" fill="#e8532e"/>
<circle cx="495.45" cy="1020.08" r="3.1" fill="#e8532e"/>
<circle cx="531.55" cy="1004.22" r="3.1" fill="#e8532e"/>
<circle cx="567.65" cy="972.12" r="3.1" fill="#e8532e"/>
<line x1="459.35" y1="1037.06" x2="459.35" y2="1048.26" stroke="#111111" stroke-width="1.05"/>
<line x1="495.45" y1="1001.61" x2="495.45" y2="1009.07" stroke="#111111" stroke-width="1.05"/>
<line x1="531.55" y1="976.60" x2="531.55" y2="995.26" stroke="#111111" stroke-width="1.05"/>
<line x1="567.65" y1="967.83" x2="567.65" y2="979.03" stroke="#111111" stroke-width="1.05"/>
<path d="M423.25,1060.20 L459.35,1042.66 L495.45,1005.34 L531.55,985.93 L567.65,973.43" fill="none" stroke="#111111" stroke-width="1.3" stroke-linejoin="round"/>
<circle cx="459.35" cy="1042.66" r="3.1" fill="#111111"/>
<circle cx="495.45" cy="1005.34" r="3.1" fill="#111111"/>
<circle cx="531.55" cy="985.93" r="3.1" fill="#111111"/>
<circle cx="567.65" cy="973.43" r="3.1" fill="#111111"/>
<text x="165.60" y="688.80" font-size="12.2" text-anchor="middle" fill="#474747" textLength="123.50" lengthAdjust="spacingAndGlyphs">RBD mutations known</text>
<text x="165.60" y="703.90" font-size="12.2" text-anchor="middle" fill="#474747" textLength="129.50" lengthAdjust="spacingAndGlyphs">to increase or decrease</text>
<text x="166.20" y="719.50" font-size="12.2" text-anchor="middle" fill="#474747" textLength="76.20" lengthAdjust="spacingAndGlyphs">ACE2 binding</text>
<text x="258.60" y="704.60" font-size="12.2" text-anchor="start" fill="#474747">S</text>
<text x="266.90" y="709.00" font-size="7.5" text-anchor="start" fill="#474747">1</text>
<text x="274.90" y="704.60" font-size="12.2" text-anchor="start" fill="#474747" textLength="127.50" lengthAdjust="spacingAndGlyphs">mutations that increase</text>
<text x="331.00" y="719.50" font-size="12.2" text-anchor="middle" fill="#474747" textLength="119.50" lengthAdjust="spacingAndGlyphs">ACE2 binding in DMS</text>
<text x="461.50" y="719.50" font-size="12.2" text-anchor="start" fill="#474747">S</text>
<text x="469.80" y="723.90" font-size="7.5" text-anchor="start" fill="#474747">2</text>
<text x="477.80" y="719.50" font-size="12.2" text-anchor="start" fill="#474747" textLength="54.60" lengthAdjust="spacingAndGlyphs">mutations</text>
<text x="341.60" y="1132.80" font-size="13.0" text-anchor="middle" fill="#474747" textLength="159.80" lengthAdjust="spacingAndGlyphs">ACE2 concentration (nM)</text>
<g transform="translate(39.30 852.80) rotate(-90)">
<text x="-0.7" y="0" font-size="12.6" fill="#474747">S</text>
<text x="7.30" y="-3.50" font-size="7.8" font-style="italic" fill="#474747" textLength="23.10" lengthAdjust="spacingAndGlyphs">1xRBD</text>
<text x="33.60" y="0" font-size="12.6" fill="#474747" textLength="60.80" lengthAdjust="spacingAndGlyphs">occupancy</text>
</g>
<g transform="translate(40.70 1059.00) rotate(-90)">
<text x="-0.7" y="0" font-size="13.4" fill="#474747">S</text>
<text x="7.30" y="-4.08" font-size="7.8" font-style="italic" fill="#474747" textLength="23.90" lengthAdjust="spacingAndGlyphs">2xRBD</text>
<text x="34.40" y="0" font-size="14.9" fill="#474747" textLength="71.90" lengthAdjust="spacingAndGlyphs">occupancy</text>
</g>
<text x="592.00" y="739.60" font-size="12.4" text-anchor="start" fill="#222" font-weight="bold" textLength="95.00" lengthAdjust="spacingAndGlyphs">XBB.1.5 variant</text>
<line x1="592.30" y1="759.50" x2="614.50" y2="759.50" stroke="#111111" stroke-width="1.05"/>
<circle cx="603.30" cy="759.50" r="2.8" fill="#111111"/>
<text x="624.50" y="763.90" font-size="12.2" text-anchor="start" fill="#474747" textLength="47.00" lengthAdjust="spacingAndGlyphs">XBB.1.5</text>
<line x1="592.30" y1="783.58" x2="614.50" y2="783.58" stroke="#5ab4e6" stroke-width="1.05"/>
<circle cx="603.30" cy="783.58" r="2.8" fill="#5ab4e6"/>
<text x="624.50" y="787.98" font-size="12.2" text-anchor="start" fill="#474747" textLength="38.93" lengthAdjust="spacingAndGlyphs">Q115K</text>
<line x1="592.30" y1="807.66" x2="614.50" y2="807.66" stroke="#1a70b3" stroke-width="1.05"/>
<circle cx="603.30" cy="807.66" r="2.8" fill="#1a70b3"/>
<text x="624.50" y="812.06" font-size="12.2" text-anchor="start" fill="#474747" textLength="32.75" lengthAdjust="spacingAndGlyphs">T167I</text>
<line x1="592.30" y1="831.74" x2="614.50" y2="831.74" stroke="#9a9a9a" stroke-width="1.05"/>
<circle cx="603.30" cy="831.74" r="2.8" fill="#9a9a9a"/>
<text x="624.50" y="836.14" font-size="12.2" text-anchor="start" fill="#474747" textLength="40.59" lengthAdjust="spacingAndGlyphs">A222M</text>
<line x1="592.30" y1="855.82" x2="614.50" y2="855.82" stroke="#d07fae" stroke-width="1.05"/>
<circle cx="603.30" cy="855.82" r="2.8" fill="#d07fae"/>
<text x="624.50" y="860.22" font-size="12.2" text-anchor="start" fill="#474747" textLength="38.45" lengthAdjust="spacingAndGlyphs">N234T</text>
<line x1="592.30" y1="879.90" x2="614.50" y2="879.90" stroke="#eee04a" stroke-width="1.05"/>
<circle cx="603.30" cy="879.90" r="2.8" fill="#eee04a"/>
<text x="624.50" y="884.30" font-size="12.2" text-anchor="start" fill="#474747" textLength="38.45" lengthAdjust="spacingAndGlyphs">F371N</text>
<line x1="592.30" y1="903.98" x2="614.50" y2="903.98" stroke="#e6a12e" stroke-width="1.05"/>
<circle cx="603.30" cy="903.98" r="2.8" fill="#e6a12e"/>
<text x="624.50" y="908.38" font-size="12.2" text-anchor="start" fill="#474747" textLength="39.17" lengthAdjust="spacingAndGlyphs">N405A</text>
<line x1="592.30" y1="928.06" x2="614.50" y2="928.06" stroke="#d6622a" stroke-width="1.05"/>
<circle cx="603.30" cy="928.06" r="2.8" fill="#d6622a"/>
<text x="624.50" y="932.46" font-size="12.2" text-anchor="start" fill="#474747" textLength="38.46" lengthAdjust="spacingAndGlyphs">Q493L</text>
<line x1="592.30" y1="952.14" x2="614.50" y2="952.14" stroke="#17a074" stroke-width="1.05"/>
<circle cx="603.30" cy="952.14" r="2.8" fill="#17a074"/>
<text x="624.50" y="956.54" font-size="12.2" text-anchor="start" fill="#474747" textLength="39.17" lengthAdjust="spacingAndGlyphs">R498V</text>
<line x1="592.30" y1="976.22" x2="614.50" y2="976.22" stroke="#a6bf45" stroke-width="1.05"/>
<circle cx="603.30" cy="976.22" r="2.8" fill="#a6bf45"/>
<text x="624.50" y="980.62" font-size="12.2" text-anchor="start" fill="#474747" textLength="38.46" lengthAdjust="spacingAndGlyphs">Q804L</text>
<line x1="592.30" y1="1000.30" x2="614.50" y2="1000.30" stroke="#7c2a8e" stroke-width="1.05"/>
<circle cx="603.30" cy="1000.30" r="2.8" fill="#7c2a8e"/>
<text x="624.50" y="1004.70" font-size="12.2" text-anchor="start" fill="#474747" textLength="40.59" lengthAdjust="spacingAndGlyphs">G614D</text>
<line x1="592.30" y1="1024.38" x2="614.50" y2="1024.38" stroke="#5bc6d9" stroke-width="1.05"/>
<circle cx="603.30" cy="1024.38" r="2.8" fill="#5bc6d9"/>
<text x="624.50" y="1028.78" font-size="12.2" text-anchor="start" fill="#474747" textLength="38.46" lengthAdjust="spacingAndGlyphs">Q762L</text>
<line x1="592.30" y1="1048.46" x2="614.50" y2="1048.46" stroke="#e8532e" stroke-width="1.05"/>
<circle cx="603.30" cy="1048.46" r="2.8" fill="#e8532e"/>
<text x="624.50" y="1052.86" font-size="12.2" text-anchor="start" fill="#474747" textLength="42.49" lengthAdjust="spacingAndGlyphs">F1121L</text>
</svg></body></html>
